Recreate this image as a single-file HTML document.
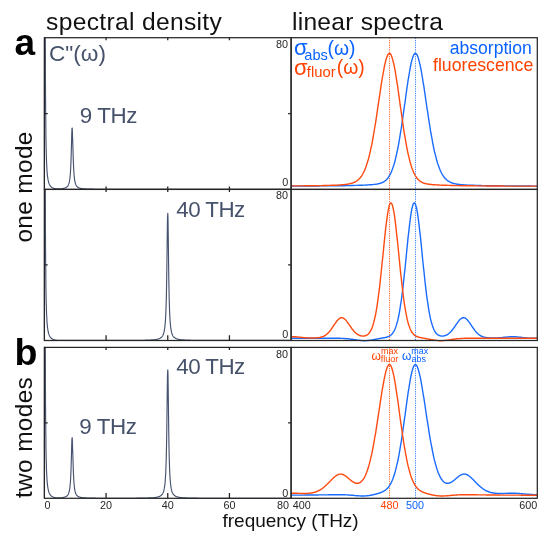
<!DOCTYPE html>
<html><head><meta charset="utf-8"><style>
html,body{margin:0;padding:0;background:#fff;}
body{width:550px;height:543px;overflow:hidden;}
svg{display:block;}
</style></head><body>
<svg width="550" height="543" viewBox="0 0 550 543">
<rect x="0" y="0" width="550" height="543" fill="#fff"/>
<g fill="none" stroke="#465370" stroke-width="1.15" stroke-linejoin="round">
<path d="M44.4,189.2 L44.4,139.2 L44.5,37.7 L44.5,37.7 L44.6,37.7 L44.6,37.7 L44.7,37.7 L44.8,37.7 L44.8,37.7 L44.9,37.7 L44.9,37.7 L44.9,37.7 L45.0,37.7 L45.0,37.7 L45.1,37.7 L45.1,37.7 L45.2,37.7 L45.2,37.7 L45.3,38.3 L45.4,52.9 L45.4,65.5 L45.4,76.5 L45.5,86.1 L45.5,94.6 L45.6,102.1 L45.6,108.7 L45.7,114.6 L45.8,119.9 L45.8,124.7 L45.9,128.9 L45.9,132.8 L45.9,136.3 L46.0,139.5 L46.0,142.5 L46.1,145.1 L46.1,147.6 L46.2,149.9 L46.2,151.9 L46.3,153.9 L46.4,155.6 L46.4,157.3 L46.4,158.8 L46.5,160.3 L46.5,161.6 L46.6,162.8 L46.6,164.0 L46.7,165.1 L46.8,166.1 L46.8,167.1 L46.9,168.0 L46.9,168.8 L46.9,169.6 L47.0,170.4 L47.0,171.1 L47.1,171.7 L47.1,172.4 L47.2,173.0 L47.2,173.6 L47.3,174.1 L47.4,174.6 L47.4,175.1 L47.4,175.6 L47.7,177.3 L47.9,178.7 L48.1,179.9 L48.3,180.9 L48.5,181.7 L48.7,182.5 L48.9,183.1 L49.1,183.7 L49.3,184.2 L49.5,184.6 L49.7,185.0 L49.9,185.4 L50.1,185.7 L50.3,186.0 L50.5,186.2 L50.7,186.4 L50.9,186.7 L51.1,186.8 L51.3,187.0 L51.5,187.2 L51.7,187.3 L51.9,187.5 L52.1,187.6 L52.3,187.7 L52.5,187.8 L52.7,187.9 L52.9,188.0 L53.1,188.1 L53.3,188.2 L53.5,188.2 L53.7,188.3 L54.0,188.4 L54.2,188.4 L54.4,188.5 L54.6,188.5 L54.8,188.6 L55.0,188.6 L55.2,188.6 L55.4,188.7 L55.6,188.7 L55.8,188.7 L56.0,188.7 L56.2,188.8 L56.4,188.8 L56.6,188.8 L56.8,188.8 L57.0,188.8 L57.2,188.8 L57.4,188.8 L57.6,188.8 L57.8,188.9 L58.0,188.9 L58.2,188.9 L58.4,188.9 L58.6,188.9 L58.8,188.9 L59.0,188.8 L59.2,188.8 L59.4,188.8 L59.6,188.8 L59.8,188.8 L60.0,188.8 L60.3,188.8 L60.5,188.8 L60.7,188.8 L60.9,188.8 L61.1,188.7 L61.3,188.7 L61.5,188.7 L61.7,188.7 L61.9,188.7 L62.1,188.6 L62.3,188.6 L62.5,188.6 L62.7,188.5 L62.9,188.5 L63.1,188.5 L63.3,188.4 L63.5,188.4 L63.7,188.4 L63.9,188.3 L64.1,188.3 L64.3,188.2 L64.5,188.2 L64.7,188.1 L64.9,188.0 L65.1,188.0 L65.3,187.9 L65.5,187.8 L65.7,187.7 L65.9,187.6 L66.1,187.5 L66.3,187.3 L66.6,187.2 L66.8,187.1 L67.0,186.9 L67.2,186.7 L67.4,186.5 L67.6,186.2 L67.8,186.0 L68.0,185.6 L68.2,185.3 L68.4,184.9 L68.6,184.4 L68.8,183.8 L69.0,183.2 L69.2,182.4 L69.4,181.5 L69.6,180.4 L69.8,179.0 L70.0,177.4 L70.2,175.4 L70.4,172.8 L70.6,169.7 L70.8,165.7 L71.0,160.7 L71.2,154.7 L71.4,147.5 L71.6,139.8 L71.8,132.8 L72.0,128.3 L72.2,128.0 L72.4,132.0 L72.6,138.8 L72.9,146.5 L73.1,153.8 L73.3,160.0 L73.5,165.1 L73.7,169.2 L73.9,172.5 L74.1,175.1 L74.3,177.1 L74.5,178.8 L74.7,180.2 L74.9,181.3 L75.1,182.3 L75.3,183.1 L75.5,183.7 L75.7,184.3 L75.9,184.8 L76.1,185.2 L76.3,185.6 L76.5,185.9 L76.7,186.2 L76.9,186.4 L77.1,186.7 L77.3,186.9 L77.5,187.0 L77.7,187.2 L77.9,187.3 L78.1,187.5 L78.3,187.6 L78.5,187.7 L78.7,187.8 L78.9,187.9 L79.2,187.9 L79.4,188.0 L79.6,188.1 L79.8,188.1 L80.0,188.2 L80.2,188.3 L80.4,188.3 L80.6,188.4 L80.8,188.4 L81.0,188.4 L81.2,188.5 L81.4,188.5 L81.6,188.5 L81.8,188.6 L82.0,188.6 L82.2,188.6 L82.4,188.7 L82.6,188.7 L82.8,188.7 L83.0,188.7 L83.2,188.7 L83.4,188.8 L83.6,188.8 L83.8,188.8 L84.0,188.8 L84.2,188.8 L84.4,188.9 L84.6,188.9 L84.8,188.9 L85.0,188.9 L85.2,188.9 L85.5,188.9 L85.7,188.9 L85.9,188.9 L86.1,189.0 L86.3,189.0 L86.5,189.0 L86.7,189.0 L86.9,189.0 L87.1,189.0 L87.3,189.0 L87.5,189.0 L87.7,189.0 L87.9,189.0 L88.1,189.0 L88.3,189.0 L88.5,189.0 L88.7,189.1 L88.9,189.1 L89.1,189.1 L89.3,189.1 L89.5,189.1 L89.7,189.1 L89.9,189.1 L90.1,189.1 L90.3,189.1 L90.5,189.1 L90.7,189.1 L90.9,189.1 L91.1,189.1 L91.3,189.1 L91.5,189.1 L91.8,189.1 L92.0,189.1 L92.2,189.1 L92.4,189.1 L92.6,189.1 L92.8,189.1 L93.0,189.1 L93.2,189.1 L93.4,189.1 L93.6,189.2 L93.8,189.2 L94.0,189.2 L94.2,189.2 L94.4,189.2 L94.6,189.2 L94.8,189.2 L95.0,189.2 L95.2,189.2 L95.4,189.2 L95.6,189.2 L95.8,189.2 L96.0,189.2 L96.2,189.2 L96.4,189.2 L96.6,189.2 L96.8,189.2 L97.0,189.2 L97.2,189.2 L97.4,189.2 L97.6,189.2 L97.8,189.2 L98.0,189.2 L98.3,189.2 L98.5,189.2 L98.7,189.2 L98.9,189.2 L99.1,189.2 L99.3,189.2 L99.5,189.2 L99.7,189.2 L99.9,189.2 L100.1,189.2 L100.3,189.2 L100.5,189.2 L100.7,189.2 L100.9,189.2 L101.1,189.2 L101.3,189.2 L101.5,189.2 L101.7,189.2 L101.9,189.2 L102.1,189.2 L102.3,189.2 L102.5,189.2 L102.7,189.2 L102.9,189.2 L103.1,189.2 L103.3,189.2 L103.5,189.2 L103.7,189.2 L103.9,189.2 L104.1,189.2 L104.3,189.2 L104.6,189.2 L104.8,189.2 L105.0,189.2 L105.2,189.2 L105.4,189.2 L105.6,189.2 L105.8,189.2 L106.0,189.2 L106.2,189.2 L106.4,189.2 L106.6,189.2 L106.8,189.2 L107.0,189.2 L107.2,189.2 L107.4,189.2 L107.6,189.2 L107.8,189.2 L108.0,189.2 L108.2,189.2 L108.4,189.2 L108.6,189.2 L108.8,189.2 L109.0,189.2 L109.2,189.3 L109.4,189.3 L109.6,189.3 L109.8,189.3 L110.0,189.3 L110.2,189.3 L110.4,189.3 L110.6,189.3 L110.9,189.3 L111.1,189.3 L111.3,189.3 L111.5,189.3 L111.7,189.3 L111.9,189.3 L112.1,189.3 L112.3,189.3 L112.5,189.3 L112.7,189.3 L112.9,189.3 L113.1,189.3 L113.3,189.3 L113.5,189.3 L113.7,189.3 L113.9,189.3 L114.1,189.3 L114.3,189.3 L114.5,189.3 L114.7,189.3 L114.9,189.3 L115.1,189.3 L115.3,189.3 L115.5,189.3 L115.7,189.3 L115.9,189.3 L116.1,189.3 L116.3,189.3 L116.5,189.3 L116.7,189.3 L116.9,189.3 L117.2,189.3 L117.4,189.3 L117.6,189.3 L117.8,189.3 L118.0,189.3 L118.2,189.3 L118.4,189.3 L118.6,189.3 L118.8,189.3 L119.0,189.3 L119.2,189.3 L119.4,189.3 L119.6,189.3 L119.8,189.3 L120.0,189.3 L120.2,189.3 L120.4,189.3 L120.6,189.3 L120.8,189.3 L121.0,189.3 L121.2,189.3 L121.4,189.3 L121.6,189.3 L121.8,189.3 L122.0,189.3 L122.2,189.3 L122.4,189.3 L122.6,189.3 L122.8,189.3 L123.0,189.3 L123.2,189.3 L123.5,189.3 L123.7,189.3 L123.9,189.3 L124.1,189.3 L124.3,189.3 L124.5,189.3 L124.7,189.3 L124.9,189.3 L125.1,189.3 L125.3,189.3 L125.5,189.3 L125.7,189.3 L125.9,189.3 L126.1,189.3 L126.3,189.3 L126.5,189.3 L126.7,189.3 L126.9,189.3 L127.1,189.3 L127.3,189.3 L127.5,189.3 L127.7,189.3 L127.9,189.3 L128.1,189.3 L128.3,189.3 L128.5,189.3 L128.7,189.3 L128.9,189.3 L129.1,189.3 L129.3,189.3 L129.5,189.3 L129.8,189.3 L130.0,189.3 L130.2,189.3 L130.4,189.3 L130.6,189.3 L130.8,189.3 L131.0,189.3 L131.2,189.3 L131.4,189.3 L131.6,189.3 L131.8,189.3 L132.0,189.3 L132.2,189.3 L132.4,189.3 L132.6,189.3 L132.8,189.3 L133.0,189.3 L133.2,189.3 L133.4,189.3 L133.6,189.3 L133.8,189.3 L134.0,189.3 L134.2,189.3 L134.4,189.3 L134.6,189.3 L134.8,189.3 L135.0,189.3 L135.2,189.3 L135.4,189.3 L135.6,189.3 L135.8,189.3 L136.1,189.3 L136.3,189.3 L136.5,189.3 L136.7,189.3 L136.9,189.3 L137.1,189.3 L137.3,189.3 L137.5,189.3 L137.7,189.3 L137.9,189.3 L138.1,189.3 L138.3,189.3 L138.5,189.3 L138.7,189.3 L138.9,189.3 L139.1,189.3 L139.3,189.3 L139.5,189.3 L139.7,189.3 L139.9,189.3 L140.1,189.3 L140.3,189.3 L140.5,189.3 L140.7,189.3 L140.9,189.3 L141.1,189.3 L141.3,189.3 L141.5,189.3 L141.7,189.3 L141.9,189.3 L142.1,189.3 L142.3,189.3 L142.6,189.3 L142.8,189.3 L143.0,189.3 L143.2,189.3 L143.4,189.3 L143.6,189.3 L143.8,189.3 L144.0,189.3 L144.2,189.3 L144.4,189.3 L144.6,189.3 L144.8,189.3 L145.0,189.3 L145.2,189.3 L145.4,189.3 L145.6,189.3 L145.8,189.3 L146.0,189.3 L146.2,189.3 L146.4,189.3 L146.6,189.3 L146.8,189.3 L147.0,189.3 L147.2,189.3 L147.4,189.3 L147.6,189.3 L147.8,189.3 L148.0,189.3 L148.2,189.3 L148.4,189.3 L148.6,189.3 L148.9,189.3 L149.1,189.3 L149.3,189.3 L149.5,189.3 L149.7,189.3 L149.9,189.3 L150.1,189.3 L150.3,189.3 L150.5,189.3 L150.7,189.3 L150.9,189.3 L151.1,189.3 L151.3,189.3 L151.5,189.3 L151.7,189.3 L151.9,189.3 L152.1,189.3 L152.3,189.3 L152.5,189.3 L152.7,189.3 L152.9,189.3 L153.1,189.3 L153.3,189.3 L153.5,189.3 L153.7,189.3 L153.9,189.3 L154.1,189.3 L154.3,189.3 L154.5,189.3 L154.7,189.3 L154.9,189.3 L155.2,189.3 L155.4,189.3 L155.6,189.3 L155.8,189.3 L156.0,189.3 L156.2,189.3 L156.4,189.3 L156.6,189.3 L156.8,189.3 L157.0,189.3 L157.2,189.3 L157.4,189.3 L157.6,189.3 L157.8,189.3 L158.0,189.3 L158.2,189.3 L158.4,189.3 L158.6,189.3 L158.8,189.3 L159.0,189.3 L159.2,189.3 L159.4,189.3 L159.6,189.3 L159.8,189.3 L160.0,189.3 L160.2,189.3 L160.4,189.3 L160.6,189.3 L160.8,189.3 L161.0,189.3 L161.2,189.3 L161.5,189.3 L161.7,189.3 L161.9,189.3 L162.1,189.3 L162.3,189.3 L162.5,189.3 L162.7,189.3 L162.9,189.3 L163.1,189.3 L163.3,189.3 L163.5,189.3 L163.7,189.3 L163.9,189.3 L164.1,189.3 L164.3,189.3 L164.5,189.3 L164.7,189.3 L164.9,189.3 L165.1,189.3 L165.3,189.3 L165.5,189.3 L165.7,189.3 L165.9,189.3 L166.1,189.3 L166.3,189.3 L166.5,189.3 L166.7,189.3 L166.9,189.3 L167.1,189.3 L167.3,189.3 L167.5,189.3 L167.8,189.3 L168.0,189.3 L168.2,189.3 L168.4,189.3 L168.6,189.3 L168.8,189.3 L169.0,189.3 L169.2,189.3 L169.4,189.3 L169.6,189.3 L169.8,189.3 L170.0,189.3 L170.2,189.3 L170.4,189.3 L170.6,189.3 L170.8,189.3 L171.0,189.3 L171.2,189.3 L171.4,189.3 L171.6,189.3 L171.8,189.3 L172.0,189.3 L172.2,189.3 L172.4,189.3 L172.6,189.3 L172.8,189.3 L173.0,189.3 L173.2,189.3 L173.4,189.3 L173.6,189.3 L173.8,189.3 L174.1,189.3 L174.3,189.3 L174.5,189.3 L174.7,189.3 L174.9,189.3 L175.1,189.3 L175.3,189.3 L175.5,189.3 L175.7,189.3 L175.9,189.3 L176.1,189.3 L176.3,189.3 L176.5,189.3 L176.7,189.3 L176.9,189.3 L177.1,189.3 L177.3,189.3 L177.5,189.3 L177.7,189.3 L177.9,189.3 L178.1,189.3 L178.3,189.3 L178.5,189.3 L178.7,189.3 L178.9,189.3 L179.1,189.3 L179.3,189.3 L179.5,189.3 L179.7,189.3 L179.9,189.3 L180.1,189.3 L180.3,189.3 L180.6,189.3 L180.8,189.3 L181.0,189.3 L181.2,189.3 L181.4,189.3 L181.6,189.3 L181.8,189.3 L182.0,189.3 L182.2,189.3 L182.4,189.3 L182.6,189.3 L182.8,189.3 L183.0,189.3 L183.2,189.3 L183.4,189.3 L183.6,189.3 L183.8,189.3 L184.0,189.3 L184.2,189.3 L184.4,189.3 L184.6,189.3 L184.8,189.3 L185.0,189.3 L185.2,189.3 L185.4,189.3 L185.6,189.3 L185.8,189.3 L186.0,189.3 L186.2,189.3 L186.4,189.3 L186.6,189.3 L186.9,189.3 L187.1,189.3 L187.3,189.3 L187.5,189.3 L187.7,189.3 L187.9,189.3 L188.1,189.3 L188.3,189.3 L188.5,189.3 L188.7,189.3 L188.9,189.3 L189.1,189.3 L189.3,189.3 L189.5,189.3 L189.7,189.3 L189.9,189.3 L190.1,189.3 L190.3,189.3 L190.5,189.3 L190.7,189.3 L190.9,189.3 L191.1,189.3 L191.3,189.3 L191.5,189.3 L191.7,189.3 L191.9,189.3 L192.1,189.3 L192.3,189.3 L192.5,189.3 L192.7,189.3 L192.9,189.3 L193.2,189.3 L193.4,189.3 L193.6,189.3 L193.8,189.3 L194.0,189.3 L194.2,189.3 L194.4,189.3 L194.6,189.3 L194.8,189.3 L195.0,189.3 L195.2,189.3 L195.4,189.3 L195.6,189.3 L195.8,189.3 L196.0,189.3 L196.2,189.3 L196.4,189.3 L196.6,189.3 L196.8,189.3 L197.0,189.3 L197.2,189.3 L197.4,189.3 L197.6,189.3 L197.8,189.3 L198.0,189.3 L198.2,189.3 L198.4,189.3 L198.6,189.3 L198.8,189.3 L199.0,189.3 L199.2,189.3 L199.5,189.3 L199.7,189.3 L199.9,189.3 L200.1,189.3 L200.3,189.3 L200.5,189.3 L200.7,189.3 L200.9,189.3 L201.1,189.3 L201.3,189.3 L201.5,189.3 L201.7,189.3 L201.9,189.3 L202.1,189.3 L202.3,189.3 L202.5,189.3 L202.7,189.3 L202.9,189.3 L203.1,189.3 L203.3,189.3 L203.5,189.3 L203.7,189.3 L203.9,189.3 L204.1,189.3 L204.3,189.3 L204.5,189.3 L204.7,189.3 L204.9,189.3 L205.1,189.3 L205.3,189.3 L205.5,189.3 L205.8,189.3 L206.0,189.3 L206.2,189.3 L206.4,189.3 L206.6,189.3 L206.8,189.3 L207.0,189.3 L207.2,189.3 L207.4,189.3 L207.6,189.3 L207.8,189.3 L208.0,189.3 L208.2,189.3 L208.4,189.3 L208.6,189.3 L208.8,189.3 L209.0,189.3 L209.2,189.3 L209.4,189.3 L209.6,189.3 L209.8,189.3 L210.0,189.3 L210.2,189.3 L210.4,189.3 L210.6,189.3 L210.8,189.3 L211.0,189.3 L211.2,189.3 L211.4,189.3 L211.6,189.3 L211.8,189.3 L212.1,189.3 L212.3,189.3 L212.5,189.3 L212.7,189.3 L212.9,189.3 L213.1,189.3 L213.3,189.3 L213.5,189.3 L213.7,189.3 L213.9,189.3 L214.1,189.3 L214.3,189.3 L214.5,189.3 L214.7,189.3 L214.9,189.3 L215.1,189.3 L215.3,189.3 L215.5,189.3 L215.7,189.3 L215.9,189.3 L216.1,189.3 L216.3,189.3 L216.5,189.3 L216.7,189.3 L216.9,189.3 L217.1,189.3 L217.3,189.3 L217.5,189.3 L217.7,189.3 L217.9,189.3 L218.1,189.3 L218.4,189.3 L218.6,189.3 L218.8,189.3 L219.0,189.3 L219.2,189.3 L219.4,189.3 L219.6,189.3 L219.8,189.3 L220.0,189.3 L220.2,189.3 L220.4,189.3 L220.6,189.3 L220.8,189.3 L221.0,189.3 L221.2,189.3 L221.4,189.3 L221.6,189.3 L221.8,189.3 L222.0,189.3 L222.2,189.3 L222.4,189.3 L222.6,189.3 L222.8,189.3 L223.0,189.3 L223.2,189.3 L223.4,189.3 L223.6,189.3 L223.8,189.3 L224.0,189.3 L224.2,189.3 L224.4,189.3 L224.7,189.3 L224.9,189.3 L225.1,189.3 L225.3,189.3 L225.5,189.3 L225.7,189.3 L225.9,189.3 L226.1,189.3 L226.3,189.3 L226.5,189.3 L226.7,189.3 L226.9,189.3 L227.1,189.3 L227.3,189.3 L227.5,189.3 L227.7,189.3 L227.9,189.3 L228.1,189.3 L228.3,189.3 L228.5,189.3 L228.7,189.3 L228.9,189.3 L229.1,189.3 L229.3,189.3 L229.5,189.3 L229.7,189.3 L229.9,189.3 L230.1,189.3 L230.3,189.3 L230.5,189.3 L230.7,189.3 L230.9,189.3 L231.2,189.3 L231.4,189.3 L231.6,189.3 L231.8,189.3 L232.0,189.3 L232.2,189.3 L232.4,189.3 L232.6,189.3 L232.8,189.3 L233.0,189.3 L233.2,189.3 L233.4,189.3 L233.6,189.3 L233.8,189.3 L234.0,189.3 L234.2,189.3 L234.4,189.3 L234.6,189.3 L234.8,189.3 L235.0,189.3 L235.2,189.3 L235.4,189.3 L235.6,189.3 L235.8,189.3 L236.0,189.3 L236.2,189.3 L236.4,189.3 L236.6,189.3 L236.8,189.3 L237.0,189.3 L237.2,189.3 L237.5,189.3 L237.7,189.3 L237.9,189.3 L238.1,189.3 L238.3,189.3 L238.5,189.3 L238.7,189.3 L238.9,189.3 L239.1,189.3 L239.3,189.3 L239.5,189.3 L239.7,189.3 L239.9,189.3 L240.1,189.3 L240.3,189.3 L240.5,189.3 L240.7,189.3 L240.9,189.3 L241.1,189.3 L241.3,189.3 L241.5,189.3 L241.7,189.3 L241.9,189.3 L242.1,189.3 L242.3,189.3 L242.5,189.3 L242.7,189.3 L242.9,189.3 L243.1,189.3 L243.3,189.3 L243.5,189.3 L243.8,189.3 L244.0,189.3 L244.2,189.3 L244.4,189.3 L244.6,189.3 L244.8,189.3 L245.0,189.3 L245.2,189.3 L245.4,189.3 L245.6,189.3 L245.8,189.3 L246.0,189.3 L246.2,189.3 L246.4,189.3 L246.6,189.3 L246.8,189.3 L247.0,189.3 L247.2,189.3 L247.4,189.3 L247.6,189.3 L247.8,189.3 L248.0,189.3 L248.2,189.3 L248.4,189.3 L248.6,189.3 L248.8,189.3 L249.0,189.3 L249.2,189.3 L249.4,189.3 L249.6,189.3 L249.8,189.3 L250.1,189.3 L250.3,189.3 L250.5,189.3 L250.7,189.3 L250.9,189.3 L251.1,189.3 L251.3,189.3 L251.5,189.3 L251.7,189.3 L251.9,189.3 L252.1,189.3 L252.3,189.3 L252.5,189.3 L252.7,189.3 L252.9,189.3 L253.1,189.3 L253.3,189.3 L253.5,189.3 L253.7,189.3 L253.9,189.3 L254.1,189.3 L254.3,189.3 L254.5,189.3 L254.7,189.3 L254.9,189.3 L255.1,189.3 L255.3,189.3 L255.5,189.3 L255.7,189.3 L255.9,189.3 L256.1,189.3 L256.4,189.3 L256.6,189.3 L256.8,189.3 L257.0,189.3 L257.2,189.3 L257.4,189.3 L257.6,189.3 L257.8,189.3 L258.0,189.3 L258.2,189.3 L258.4,189.3 L258.6,189.3 L258.8,189.3 L259.0,189.3 L259.2,189.3 L259.4,189.3 L259.6,189.3 L259.8,189.3 L260.0,189.3 L260.2,189.3 L260.4,189.3 L260.6,189.3 L260.8,189.3 L261.0,189.3 L261.2,189.3 L261.4,189.3 L261.6,189.3 L261.8,189.3 L262.0,189.3 L262.2,189.3 L262.4,189.3 L262.7,189.3 L262.9,189.3 L263.1,189.3 L263.3,189.3 L263.5,189.3 L263.7,189.3 L263.9,189.3 L264.1,189.3 L264.3,189.3 L264.5,189.3 L264.7,189.3 L264.9,189.3 L265.1,189.3 L265.3,189.3 L265.5,189.3 L265.7,189.3 L265.9,189.3 L266.1,189.3 L266.3,189.3 L266.5,189.3 L266.7,189.3 L266.9,189.3 L267.1,189.3 L267.3,189.3 L267.5,189.3 L267.7,189.3 L267.9,189.3 L268.1,189.3 L268.3,189.3 L268.5,189.3 L268.7,189.3 L269.0,189.3 L269.2,189.3 L269.4,189.3 L269.6,189.3 L269.8,189.3 L270.0,189.3 L270.2,189.3 L270.4,189.3 L270.6,189.3 L270.8,189.3 L271.0,189.3 L271.2,189.3 L271.4,189.3 L271.6,189.3 L271.8,189.3 L272.0,189.3 L272.2,189.3 L272.4,189.3 L272.6,189.3 L272.8,189.3 L273.0,189.3 L273.2,189.3 L273.4,189.3 L273.6,189.3 L273.8,189.3 L274.0,189.3 L274.2,189.3 L274.4,189.3 L274.6,189.3 L274.8,189.3 L275.0,189.3 L275.2,189.3 L275.5,189.3 L275.7,189.3 L275.9,189.3 L276.1,189.3 L276.3,189.3 L276.5,189.3 L276.7,189.3 L276.9,189.3 L277.1,189.3 L277.3,189.3 L277.5,189.3 L277.7,189.3 L277.9,189.3 L278.1,189.3 L278.3,189.3 L278.5,189.3 L278.7,189.3 L278.9,189.3 L279.1,189.3 L279.3,189.3 L279.5,189.3 L279.7,189.3 L279.9,189.3 L280.1,189.3 L280.3,189.3 L280.5,189.3 L280.7,189.3 L280.9,189.3 L281.1,189.3 L281.3,189.3 L281.5,189.3 L281.8,189.3 L282.0,189.3 L282.2,189.3 L282.4,189.3 L282.6,189.3 L282.8,189.3 L283.0,189.3 L283.2,189.3 L283.4,189.3 L283.6,189.3 L283.8,189.3 L284.0,189.3 L284.2,189.3 L284.4,189.3 L284.6,189.3 L284.8,189.3 L285.0,189.3 L285.2,189.3 L285.4,189.3 L285.6,189.3 L285.8,189.3 L286.0,189.3 L286.2,189.3 L286.4,189.3 L286.6,189.3 L286.8,189.3 L287.0,189.3 L287.2,189.3 L287.4,189.3 L287.6,189.3 L287.8,189.3 L288.1,189.3 L288.3,189.3 L288.5,189.3 L288.7,189.3 L288.9,189.3 L289.1,189.3 L289.3,189.3 L289.5,189.3 L289.7,189.3 L289.9,189.3 L290.1,189.3 L290.3,189.3 L290.5,189.3 L290.7,189.3 L290.9,189.3 L291.1,189.3"/>
<path d="M44.4,340.4 L44.4,290.4 L44.5,189.4 L44.5,189.4 L44.6,189.4 L44.6,189.4 L44.7,189.4 L44.8,189.4 L44.8,189.4 L44.9,189.4 L44.9,189.4 L44.9,189.4 L45.0,189.4 L45.0,189.4 L45.1,189.4 L45.1,189.4 L45.2,189.4 L45.2,189.4 L45.3,189.5 L45.4,204.1 L45.4,216.7 L45.4,227.7 L45.5,237.3 L45.5,245.8 L45.6,253.3 L45.6,259.9 L45.7,265.8 L45.8,271.1 L45.8,275.8 L45.9,280.1 L45.9,284.0 L45.9,287.5 L46.0,290.7 L46.0,293.7 L46.1,296.3 L46.1,298.8 L46.2,301.1 L46.2,303.1 L46.3,305.1 L46.4,306.8 L46.4,308.5 L46.4,310.0 L46.5,311.4 L46.5,312.8 L46.6,314.0 L46.6,315.2 L46.7,316.3 L46.8,317.3 L46.8,318.2 L46.9,319.1 L46.9,320.0 L46.9,320.8 L47.0,321.6 L47.0,322.3 L47.1,322.9 L47.1,323.6 L47.2,324.2 L47.2,324.8 L47.3,325.3 L47.4,325.8 L47.4,326.3 L47.4,326.8 L47.7,328.5 L47.9,329.9 L48.1,331.1 L48.3,332.1 L48.5,332.9 L48.7,333.7 L48.9,334.3 L49.1,334.9 L49.3,335.4 L49.5,335.8 L49.7,336.2 L49.9,336.6 L50.1,336.9 L50.3,337.2 L50.5,337.4 L50.7,337.7 L50.9,337.9 L51.1,338.1 L51.3,338.3 L51.5,338.4 L51.7,338.6 L51.9,338.7 L52.1,338.9 L52.3,339.0 L52.5,339.1 L52.7,339.2 L52.9,339.3 L53.1,339.4 L53.3,339.4 L53.5,339.5 L53.7,339.6 L54.0,339.7 L54.2,339.7 L54.4,339.8 L54.6,339.8 L54.8,339.9 L55.0,339.9 L55.2,340.0 L55.4,340.0 L55.6,340.0 L55.8,340.1 L56.0,340.1 L56.2,340.1 L56.4,340.1 L56.6,340.2 L56.8,340.2 L57.0,340.2 L57.2,340.2 L57.4,340.2 L57.6,340.3 L57.8,340.3 L58.0,340.3 L58.2,340.3 L58.4,340.3 L58.6,340.3 L58.8,340.3 L59.0,340.3 L59.2,340.3 L59.4,340.3 L59.6,340.4 L59.8,340.4 L60.0,340.4 L60.3,340.4 L60.5,340.4 L60.7,340.4 L60.9,340.4 L61.1,340.4 L61.3,340.4 L61.5,340.4 L61.7,340.4 L61.9,340.4 L62.1,340.4 L62.3,340.4 L62.5,340.4 L62.7,340.4 L62.9,340.4 L63.1,340.4 L63.3,340.4 L63.5,340.4 L63.7,340.4 L63.9,340.4 L64.1,340.4 L64.3,340.4 L64.5,340.4 L64.7,340.4 L64.9,340.4 L65.1,340.4 L65.3,340.4 L65.5,340.4 L65.7,340.4 L65.9,340.4 L66.1,340.4 L66.3,340.4 L66.6,340.4 L66.8,340.4 L67.0,340.4 L67.2,340.4 L67.4,340.4 L67.6,340.4 L67.8,340.4 L68.0,340.4 L68.2,340.4 L68.4,340.4 L68.6,340.4 L68.8,340.4 L69.0,340.4 L69.2,340.4 L69.4,340.4 L69.6,340.4 L69.8,340.4 L70.0,340.4 L70.2,340.4 L70.4,340.4 L70.6,340.4 L70.8,340.4 L71.0,340.4 L71.2,340.4 L71.4,340.4 L71.6,340.4 L71.8,340.4 L72.0,340.4 L72.2,340.4 L72.4,340.4 L72.6,340.4 L72.9,340.4 L73.1,340.4 L73.3,340.4 L73.5,340.4 L73.7,340.4 L73.9,340.4 L74.1,340.4 L74.3,340.4 L74.5,340.4 L74.7,340.4 L74.9,340.4 L75.1,340.4 L75.3,340.4 L75.5,340.4 L75.7,340.4 L75.9,340.4 L76.1,340.4 L76.3,340.4 L76.5,340.4 L76.7,340.4 L76.9,340.4 L77.1,340.4 L77.3,340.4 L77.5,340.4 L77.7,340.4 L77.9,340.4 L78.1,340.4 L78.3,340.4 L78.5,340.4 L78.7,340.4 L78.9,340.4 L79.2,340.4 L79.4,340.4 L79.6,340.4 L79.8,340.4 L80.0,340.4 L80.2,340.4 L80.4,340.4 L80.6,340.4 L80.8,340.4 L81.0,340.4 L81.2,340.4 L81.4,340.4 L81.6,340.4 L81.8,340.4 L82.0,340.4 L82.2,340.4 L82.4,340.4 L82.6,340.4 L82.8,340.4 L83.0,340.4 L83.2,340.4 L83.4,340.4 L83.6,340.4 L83.8,340.4 L84.0,340.4 L84.2,340.4 L84.4,340.4 L84.6,340.4 L84.8,340.4 L85.0,340.4 L85.2,340.4 L85.5,340.4 L85.7,340.4 L85.9,340.4 L86.1,340.4 L86.3,340.4 L86.5,340.4 L86.7,340.4 L86.9,340.4 L87.1,340.4 L87.3,340.4 L87.5,340.4 L87.7,340.4 L87.9,340.4 L88.1,340.4 L88.3,340.4 L88.5,340.4 L88.7,340.4 L88.9,340.4 L89.1,340.4 L89.3,340.4 L89.5,340.4 L89.7,340.4 L89.9,340.4 L90.1,340.4 L90.3,340.4 L90.5,340.4 L90.7,340.4 L90.9,340.4 L91.1,340.4 L91.3,340.4 L91.5,340.4 L91.8,340.4 L92.0,340.4 L92.2,340.4 L92.4,340.4 L92.6,340.4 L92.8,340.4 L93.0,340.4 L93.2,340.4 L93.4,340.4 L93.6,340.4 L93.8,340.4 L94.0,340.4 L94.2,340.4 L94.4,340.4 L94.6,340.4 L94.8,340.4 L95.0,340.4 L95.2,340.4 L95.4,340.4 L95.6,340.4 L95.8,340.4 L96.0,340.4 L96.2,340.4 L96.4,340.4 L96.6,340.4 L96.8,340.4 L97.0,340.4 L97.2,340.4 L97.4,340.4 L97.6,340.4 L97.8,340.4 L98.0,340.4 L98.3,340.4 L98.5,340.4 L98.7,340.4 L98.9,340.4 L99.1,340.4 L99.3,340.4 L99.5,340.4 L99.7,340.4 L99.9,340.4 L100.1,340.4 L100.3,340.4 L100.5,340.4 L100.7,340.4 L100.9,340.4 L101.1,340.4 L101.3,340.4 L101.5,340.4 L101.7,340.4 L101.9,340.4 L102.1,340.4 L102.3,340.4 L102.5,340.4 L102.7,340.4 L102.9,340.4 L103.1,340.4 L103.3,340.4 L103.5,340.4 L103.7,340.4 L103.9,340.4 L104.1,340.4 L104.3,340.4 L104.6,340.4 L104.8,340.4 L105.0,340.4 L105.2,340.4 L105.4,340.4 L105.6,340.4 L105.8,340.4 L106.0,340.4 L106.2,340.4 L106.4,340.4 L106.6,340.4 L106.8,340.4 L107.0,340.4 L107.2,340.4 L107.4,340.4 L107.6,340.4 L107.8,340.4 L108.0,340.4 L108.2,340.4 L108.4,340.4 L108.6,340.4 L108.8,340.4 L109.0,340.4 L109.2,340.4 L109.4,340.4 L109.6,340.4 L109.8,340.4 L110.0,340.4 L110.2,340.4 L110.4,340.4 L110.6,340.4 L110.9,340.4 L111.1,340.4 L111.3,340.4 L111.5,340.4 L111.7,340.4 L111.9,340.4 L112.1,340.4 L112.3,340.4 L112.5,340.4 L112.7,340.4 L112.9,340.4 L113.1,340.4 L113.3,340.4 L113.5,340.4 L113.7,340.4 L113.9,340.4 L114.1,340.4 L114.3,340.4 L114.5,340.4 L114.7,340.4 L114.9,340.4 L115.1,340.4 L115.3,340.4 L115.5,340.4 L115.7,340.4 L115.9,340.4 L116.1,340.4 L116.3,340.4 L116.5,340.4 L116.7,340.4 L116.9,340.4 L117.2,340.4 L117.4,340.3 L117.6,340.3 L117.8,340.3 L118.0,340.3 L118.2,340.3 L118.4,340.3 L118.6,340.3 L118.8,340.3 L119.0,340.3 L119.2,340.3 L119.4,340.3 L119.6,340.3 L119.8,340.3 L120.0,340.3 L120.2,340.3 L120.4,340.3 L120.6,340.3 L120.8,340.3 L121.0,340.3 L121.2,340.3 L121.4,340.3 L121.6,340.3 L121.8,340.3 L122.0,340.3 L122.2,340.3 L122.4,340.3 L122.6,340.3 L122.8,340.3 L123.0,340.3 L123.2,340.3 L123.5,340.3 L123.7,340.3 L123.9,340.3 L124.1,340.3 L124.3,340.3 L124.5,340.3 L124.7,340.3 L124.9,340.3 L125.1,340.3 L125.3,340.3 L125.5,340.3 L125.7,340.3 L125.9,340.3 L126.1,340.3 L126.3,340.3 L126.5,340.3 L126.7,340.3 L126.9,340.3 L127.1,340.3 L127.3,340.3 L127.5,340.3 L127.7,340.3 L127.9,340.3 L128.1,340.3 L128.3,340.3 L128.5,340.3 L128.7,340.3 L128.9,340.3 L129.1,340.3 L129.3,340.3 L129.5,340.3 L129.8,340.3 L130.0,340.3 L130.2,340.3 L130.4,340.3 L130.6,340.3 L130.8,340.3 L131.0,340.3 L131.2,340.3 L131.4,340.3 L131.6,340.3 L131.8,340.3 L132.0,340.3 L132.2,340.3 L132.4,340.3 L132.6,340.3 L132.8,340.3 L133.0,340.3 L133.2,340.3 L133.4,340.3 L133.6,340.3 L133.8,340.3 L134.0,340.3 L134.2,340.3 L134.4,340.3 L134.6,340.3 L134.8,340.3 L135.0,340.3 L135.2,340.3 L135.4,340.3 L135.6,340.3 L135.8,340.3 L136.1,340.3 L136.3,340.3 L136.5,340.3 L136.7,340.3 L136.9,340.3 L137.1,340.3 L137.3,340.3 L137.5,340.3 L137.7,340.3 L137.9,340.3 L138.1,340.3 L138.3,340.3 L138.5,340.3 L138.7,340.2 L138.9,340.2 L139.1,340.2 L139.3,340.2 L139.5,340.2 L139.7,340.2 L139.9,340.2 L140.1,340.2 L140.3,340.2 L140.5,340.2 L140.7,340.2 L140.9,340.2 L141.1,340.2 L141.3,340.2 L141.5,340.2 L141.7,340.2 L141.9,340.2 L142.1,340.2 L142.3,340.2 L142.6,340.2 L142.8,340.2 L143.0,340.2 L143.2,340.2 L143.4,340.2 L143.6,340.2 L143.8,340.2 L144.0,340.2 L144.2,340.2 L144.4,340.2 L144.6,340.2 L144.8,340.2 L145.0,340.2 L145.2,340.2 L145.4,340.1 L145.6,340.1 L145.8,340.1 L146.0,340.1 L146.2,340.1 L146.4,340.1 L146.6,340.1 L146.8,340.1 L147.0,340.1 L147.2,340.1 L147.4,340.1 L147.6,340.1 L147.8,340.1 L148.0,340.1 L148.2,340.1 L148.4,340.1 L148.6,340.1 L148.9,340.0 L149.1,340.0 L149.3,340.0 L149.5,340.0 L149.7,340.0 L149.9,340.0 L150.1,340.0 L150.3,340.0 L150.5,340.0 L150.7,340.0 L150.9,340.0 L151.1,339.9 L151.3,339.9 L151.5,339.9 L151.7,339.9 L151.9,339.9 L152.1,339.9 L152.3,339.9 L152.5,339.9 L152.7,339.8 L152.9,339.8 L153.1,339.8 L153.3,339.8 L153.5,339.8 L153.7,339.8 L153.9,339.7 L154.1,339.7 L154.3,339.7 L154.5,339.7 L154.7,339.7 L154.9,339.6 L155.2,339.6 L155.4,339.6 L155.6,339.6 L155.8,339.5 L156.0,339.5 L156.2,339.5 L156.4,339.4 L156.6,339.4 L156.8,339.4 L157.0,339.3 L157.2,339.3 L157.4,339.2 L157.6,339.2 L157.8,339.1 L158.0,339.1 L158.2,339.0 L158.4,339.0 L158.6,338.9 L158.8,338.8 L159.0,338.8 L159.2,338.7 L159.4,338.6 L159.6,338.5 L159.8,338.4 L160.0,338.3 L160.2,338.2 L160.4,338.1 L160.6,337.9 L160.8,337.8 L161.0,337.6 L161.2,337.5 L161.5,337.3 L161.7,337.1 L161.9,336.8 L162.1,336.6 L162.3,336.3 L162.5,336.0 L162.7,335.7 L162.9,335.3 L163.1,334.8 L163.3,334.3 L163.5,333.8 L163.7,333.1 L163.9,332.4 L164.1,331.6 L164.3,330.6 L164.5,329.4 L164.7,328.0 L164.9,326.4 L165.1,324.5 L165.3,322.1 L165.5,319.2 L165.7,315.6 L165.9,311.1 L166.1,305.5 L166.3,298.3 L166.5,289.2 L166.7,277.8 L166.9,263.8 L167.1,247.7 L167.3,231.2 L167.5,218.3 L167.8,213.3 L168.0,218.4 L168.2,231.4 L168.4,247.8 L168.6,263.9 L168.8,277.9 L169.0,289.3 L169.2,298.4 L169.4,305.5 L169.6,311.2 L169.8,315.6 L170.0,319.2 L170.2,322.1 L170.4,324.5 L170.6,326.4 L170.8,328.1 L171.0,329.4 L171.2,330.6 L171.4,331.6 L171.6,332.4 L171.8,333.1 L172.0,333.8 L172.2,334.3 L172.4,334.8 L172.6,335.3 L172.8,335.7 L173.0,336.0 L173.2,336.3 L173.4,336.6 L173.6,336.8 L173.8,337.1 L174.1,337.3 L174.3,337.5 L174.5,337.6 L174.7,337.8 L174.9,337.9 L175.1,338.1 L175.3,338.2 L175.5,338.3 L175.7,338.4 L175.9,338.5 L176.1,338.6 L176.3,338.7 L176.5,338.8 L176.7,338.8 L176.9,338.9 L177.1,339.0 L177.3,339.0 L177.5,339.1 L177.7,339.1 L177.9,339.2 L178.1,339.2 L178.3,339.3 L178.5,339.3 L178.7,339.4 L178.9,339.4 L179.1,339.4 L179.3,339.5 L179.5,339.5 L179.7,339.5 L179.9,339.6 L180.1,339.6 L180.3,339.6 L180.6,339.6 L180.8,339.7 L181.0,339.7 L181.2,339.7 L181.4,339.7 L181.6,339.7 L181.8,339.8 L182.0,339.8 L182.2,339.8 L182.4,339.8 L182.6,339.8 L182.8,339.8 L183.0,339.9 L183.2,339.9 L183.4,339.9 L183.6,339.9 L183.8,339.9 L184.0,339.9 L184.2,339.9 L184.4,339.9 L184.6,340.0 L184.8,340.0 L185.0,340.0 L185.2,340.0 L185.4,340.0 L185.6,340.0 L185.8,340.0 L186.0,340.0 L186.2,340.0 L186.4,340.0 L186.6,340.0 L186.9,340.1 L187.1,340.1 L187.3,340.1 L187.5,340.1 L187.7,340.1 L187.9,340.1 L188.1,340.1 L188.3,340.1 L188.5,340.1 L188.7,340.1 L188.9,340.1 L189.1,340.1 L189.3,340.1 L189.5,340.1 L189.7,340.1 L189.9,340.1 L190.1,340.1 L190.3,340.2 L190.5,340.2 L190.7,340.2 L190.9,340.2 L191.1,340.2 L191.3,340.2 L191.5,340.2 L191.7,340.2 L191.9,340.2 L192.1,340.2 L192.3,340.2 L192.5,340.2 L192.7,340.2 L192.9,340.2 L193.2,340.2 L193.4,340.2 L193.6,340.2 L193.8,340.2 L194.0,340.2 L194.2,340.2 L194.4,340.2 L194.6,340.2 L194.8,340.2 L195.0,340.2 L195.2,340.2 L195.4,340.2 L195.6,340.2 L195.8,340.2 L196.0,340.2 L196.2,340.2 L196.4,340.2 L196.6,340.2 L196.8,340.2 L197.0,340.3 L197.2,340.3 L197.4,340.3 L197.6,340.3 L197.8,340.3 L198.0,340.3 L198.2,340.3 L198.4,340.3 L198.6,340.3 L198.8,340.3 L199.0,340.3 L199.2,340.3 L199.5,340.3 L199.7,340.3 L199.9,340.3 L200.1,340.3 L200.3,340.3 L200.5,340.3 L200.7,340.3 L200.9,340.3 L201.1,340.3 L201.3,340.3 L201.5,340.3 L201.7,340.3 L201.9,340.3 L202.1,340.3 L202.3,340.3 L202.5,340.3 L202.7,340.3 L202.9,340.3 L203.1,340.3 L203.3,340.3 L203.5,340.3 L203.7,340.3 L203.9,340.3 L204.1,340.3 L204.3,340.3 L204.5,340.3 L204.7,340.3 L204.9,340.3 L205.1,340.3 L205.3,340.3 L205.5,340.3 L205.8,340.3 L206.0,340.3 L206.2,340.3 L206.4,340.3 L206.6,340.3 L206.8,340.3 L207.0,340.3 L207.2,340.3 L207.4,340.3 L207.6,340.3 L207.8,340.3 L208.0,340.3 L208.2,340.3 L208.4,340.3 L208.6,340.3 L208.8,340.3 L209.0,340.3 L209.2,340.3 L209.4,340.3 L209.6,340.3 L209.8,340.3 L210.0,340.3 L210.2,340.3 L210.4,340.3 L210.6,340.3 L210.8,340.3 L211.0,340.3 L211.2,340.3 L211.4,340.3 L211.6,340.3 L211.8,340.3 L212.1,340.3 L212.3,340.3 L212.5,340.3 L212.7,340.3 L212.9,340.3 L213.1,340.3 L213.3,340.3 L213.5,340.3 L213.7,340.3 L213.9,340.3 L214.1,340.3 L214.3,340.3 L214.5,340.3 L214.7,340.3 L214.9,340.3 L215.1,340.3 L215.3,340.3 L215.5,340.3 L215.7,340.3 L215.9,340.3 L216.1,340.3 L216.3,340.3 L216.5,340.3 L216.7,340.3 L216.9,340.3 L217.1,340.3 L217.3,340.3 L217.5,340.3 L217.7,340.3 L217.9,340.3 L218.1,340.3 L218.4,340.4 L218.6,340.4 L218.8,340.4 L219.0,340.4 L219.2,340.4 L219.4,340.4 L219.6,340.4 L219.8,340.4 L220.0,340.4 L220.2,340.4 L220.4,340.4 L220.6,340.4 L220.8,340.4 L221.0,340.4 L221.2,340.4 L221.4,340.4 L221.6,340.4 L221.8,340.4 L222.0,340.4 L222.2,340.4 L222.4,340.4 L222.6,340.4 L222.8,340.4 L223.0,340.4 L223.2,340.4 L223.4,340.4 L223.6,340.4 L223.8,340.4 L224.0,340.4 L224.2,340.4 L224.4,340.4 L224.7,340.4 L224.9,340.4 L225.1,340.4 L225.3,340.4 L225.5,340.4 L225.7,340.4 L225.9,340.4 L226.1,340.4 L226.3,340.4 L226.5,340.4 L226.7,340.4 L226.9,340.4 L227.1,340.4 L227.3,340.4 L227.5,340.4 L227.7,340.4 L227.9,340.4 L228.1,340.4 L228.3,340.4 L228.5,340.4 L228.7,340.4 L228.9,340.4 L229.1,340.4 L229.3,340.4 L229.5,340.4 L229.7,340.4 L229.9,340.4 L230.1,340.4 L230.3,340.4 L230.5,340.4 L230.7,340.4 L230.9,340.4 L231.2,340.4 L231.4,340.4 L231.6,340.4 L231.8,340.4 L232.0,340.4 L232.2,340.4 L232.4,340.4 L232.6,340.4 L232.8,340.4 L233.0,340.4 L233.2,340.4 L233.4,340.4 L233.6,340.4 L233.8,340.4 L234.0,340.4 L234.2,340.4 L234.4,340.4 L234.6,340.4 L234.8,340.4 L235.0,340.4 L235.2,340.4 L235.4,340.4 L235.6,340.4 L235.8,340.4 L236.0,340.4 L236.2,340.4 L236.4,340.4 L236.6,340.4 L236.8,340.4 L237.0,340.4 L237.2,340.4 L237.5,340.4 L237.7,340.4 L237.9,340.4 L238.1,340.4 L238.3,340.4 L238.5,340.4 L238.7,340.4 L238.9,340.4 L239.1,340.4 L239.3,340.4 L239.5,340.4 L239.7,340.4 L239.9,340.4 L240.1,340.4 L240.3,340.4 L240.5,340.4 L240.7,340.4 L240.9,340.4 L241.1,340.4 L241.3,340.4 L241.5,340.4 L241.7,340.4 L241.9,340.4 L242.1,340.4 L242.3,340.4 L242.5,340.4 L242.7,340.4 L242.9,340.4 L243.1,340.4 L243.3,340.4 L243.5,340.4 L243.8,340.4 L244.0,340.4 L244.2,340.4 L244.4,340.4 L244.6,340.4 L244.8,340.4 L245.0,340.4 L245.2,340.4 L245.4,340.4 L245.6,340.4 L245.8,340.4 L246.0,340.4 L246.2,340.4 L246.4,340.4 L246.6,340.4 L246.8,340.4 L247.0,340.4 L247.2,340.4 L247.4,340.4 L247.6,340.4 L247.8,340.4 L248.0,340.4 L248.2,340.4 L248.4,340.4 L248.6,340.4 L248.8,340.4 L249.0,340.4 L249.2,340.4 L249.4,340.4 L249.6,340.4 L249.8,340.4 L250.1,340.4 L250.3,340.4 L250.5,340.4 L250.7,340.4 L250.9,340.4 L251.1,340.4 L251.3,340.4 L251.5,340.4 L251.7,340.4 L251.9,340.4 L252.1,340.4 L252.3,340.4 L252.5,340.4 L252.7,340.4 L252.9,340.4 L253.1,340.4 L253.3,340.4 L253.5,340.4 L253.7,340.4 L253.9,340.4 L254.1,340.4 L254.3,340.4 L254.5,340.4 L254.7,340.4 L254.9,340.4 L255.1,340.4 L255.3,340.4 L255.5,340.4 L255.7,340.4 L255.9,340.4 L256.1,340.4 L256.4,340.4 L256.6,340.4 L256.8,340.4 L257.0,340.4 L257.2,340.4 L257.4,340.4 L257.6,340.4 L257.8,340.4 L258.0,340.4 L258.2,340.4 L258.4,340.4 L258.6,340.4 L258.8,340.4 L259.0,340.4 L259.2,340.4 L259.4,340.4 L259.6,340.4 L259.8,340.4 L260.0,340.4 L260.2,340.4 L260.4,340.4 L260.6,340.4 L260.8,340.4 L261.0,340.4 L261.2,340.4 L261.4,340.4 L261.6,340.4 L261.8,340.4 L262.0,340.4 L262.2,340.4 L262.4,340.4 L262.7,340.4 L262.9,340.4 L263.1,340.4 L263.3,340.4 L263.5,340.4 L263.7,340.4 L263.9,340.4 L264.1,340.4 L264.3,340.4 L264.5,340.4 L264.7,340.4 L264.9,340.4 L265.1,340.4 L265.3,340.4 L265.5,340.4 L265.7,340.4 L265.9,340.4 L266.1,340.4 L266.3,340.4 L266.5,340.4 L266.7,340.4 L266.9,340.4 L267.1,340.4 L267.3,340.4 L267.5,340.4 L267.7,340.4 L267.9,340.4 L268.1,340.4 L268.3,340.4 L268.5,340.4 L268.7,340.4 L269.0,340.4 L269.2,340.4 L269.4,340.4 L269.6,340.4 L269.8,340.4 L270.0,340.4 L270.2,340.4 L270.4,340.4 L270.6,340.4 L270.8,340.4 L271.0,340.4 L271.2,340.4 L271.4,340.4 L271.6,340.4 L271.8,340.4 L272.0,340.4 L272.2,340.4 L272.4,340.4 L272.6,340.4 L272.8,340.4 L273.0,340.4 L273.2,340.4 L273.4,340.4 L273.6,340.4 L273.8,340.4 L274.0,340.4 L274.2,340.4 L274.4,340.4 L274.6,340.4 L274.8,340.4 L275.0,340.4 L275.2,340.4 L275.5,340.4 L275.7,340.4 L275.9,340.4 L276.1,340.4 L276.3,340.4 L276.5,340.4 L276.7,340.4 L276.9,340.4 L277.1,340.4 L277.3,340.4 L277.5,340.4 L277.7,340.4 L277.9,340.4 L278.1,340.4 L278.3,340.4 L278.5,340.4 L278.7,340.4 L278.9,340.4 L279.1,340.4 L279.3,340.4 L279.5,340.4 L279.7,340.4 L279.9,340.4 L280.1,340.4 L280.3,340.4 L280.5,340.4 L280.7,340.4 L280.9,340.4 L281.1,340.4 L281.3,340.4 L281.5,340.4 L281.8,340.4 L282.0,340.4 L282.2,340.4 L282.4,340.4 L282.6,340.4 L282.8,340.4 L283.0,340.4 L283.2,340.4 L283.4,340.4 L283.6,340.4 L283.8,340.4 L284.0,340.4 L284.2,340.4 L284.4,340.4 L284.6,340.4 L284.8,340.4 L285.0,340.4 L285.2,340.4 L285.4,340.4 L285.6,340.4 L285.8,340.4 L286.0,340.4 L286.2,340.4 L286.4,340.4 L286.6,340.4 L286.8,340.4 L287.0,340.4 L287.2,340.4 L287.4,340.4 L287.6,340.4 L287.8,340.4 L288.1,340.4 L288.3,340.4 L288.5,340.4 L288.7,340.4 L288.9,340.4 L289.1,340.4 L289.3,340.4 L289.5,340.4 L289.7,340.4 L289.9,340.4 L290.1,340.4 L290.3,340.4 L290.5,340.4 L290.7,340.4 L290.9,340.4 L291.1,340.4"/>
<path d="M44.4,498.2 L44.4,448.2 L44.5,347.4 L44.5,347.4 L44.6,347.4 L44.6,347.4 L44.7,347.4 L44.8,347.4 L44.8,347.4 L44.9,347.4 L44.9,347.4 L44.9,347.4 L45.0,347.4 L45.0,347.4 L45.1,347.4 L45.1,347.4 L45.2,347.4 L45.2,347.4 L45.3,347.4 L45.4,361.9 L45.4,374.5 L45.4,385.5 L45.5,395.1 L45.5,403.6 L45.6,411.1 L45.6,417.7 L45.7,423.6 L45.8,428.9 L45.8,433.7 L45.9,437.9 L45.9,441.8 L45.9,445.3 L46.0,448.5 L46.0,451.5 L46.1,454.1 L46.1,456.6 L46.2,458.9 L46.2,460.9 L46.3,462.9 L46.4,464.6 L46.4,466.3 L46.4,467.8 L46.5,469.2 L46.5,470.6 L46.6,471.8 L46.6,473.0 L46.7,474.1 L46.8,475.1 L46.8,476.0 L46.9,476.9 L46.9,477.8 L46.9,478.6 L47.0,479.3 L47.0,480.1 L47.1,480.7 L47.1,481.4 L47.2,482.0 L47.2,482.6 L47.3,483.1 L47.4,483.6 L47.4,484.1 L47.4,484.6 L47.7,486.3 L47.9,487.7 L48.1,488.9 L48.3,489.9 L48.5,490.7 L48.7,491.5 L48.9,492.1 L49.1,492.7 L49.3,493.2 L49.5,493.6 L49.7,494.0 L49.9,494.4 L50.1,494.7 L50.3,494.9 L50.5,495.2 L50.7,495.4 L50.9,495.6 L51.1,495.8 L51.3,496.0 L51.5,496.2 L51.7,496.3 L51.9,496.5 L52.1,496.6 L52.3,496.7 L52.5,496.8 L52.7,496.9 L52.9,497.0 L53.1,497.1 L53.3,497.2 L53.5,497.2 L53.7,497.3 L54.0,497.3 L54.2,497.4 L54.4,497.5 L54.6,497.5 L54.8,497.5 L55.0,497.6 L55.2,497.6 L55.4,497.7 L55.6,497.7 L55.8,497.7 L56.0,497.7 L56.2,497.8 L56.4,497.8 L56.6,497.8 L56.8,497.8 L57.0,497.8 L57.2,497.8 L57.4,497.8 L57.6,497.8 L57.8,497.8 L58.0,497.8 L58.2,497.9 L58.4,497.9 L58.6,497.9 L58.8,497.8 L59.0,497.8 L59.2,497.8 L59.4,497.8 L59.6,497.8 L59.8,497.8 L60.0,497.8 L60.3,497.8 L60.5,497.8 L60.7,497.8 L60.9,497.7 L61.1,497.7 L61.3,497.7 L61.5,497.7 L61.7,497.7 L61.9,497.7 L62.1,497.6 L62.3,497.6 L62.5,497.6 L62.7,497.5 L62.9,497.5 L63.1,497.5 L63.3,497.4 L63.5,497.4 L63.7,497.4 L63.9,497.3 L64.1,497.3 L64.3,497.2 L64.5,497.2 L64.7,497.1 L64.9,497.0 L65.1,497.0 L65.3,496.9 L65.5,496.8 L65.7,496.7 L65.9,496.6 L66.1,496.5 L66.3,496.4 L66.6,496.2 L66.8,496.1 L67.0,495.9 L67.2,495.7 L67.4,495.5 L67.6,495.2 L67.8,495.0 L68.0,494.7 L68.2,494.3 L68.4,493.9 L68.6,493.4 L68.8,492.9 L69.0,492.2 L69.2,491.5 L69.4,490.6 L69.6,489.5 L69.8,488.1 L70.0,486.5 L70.2,484.5 L70.4,482.0 L70.6,478.9 L70.8,475.0 L71.0,470.1 L71.2,464.0 L71.4,457.0 L71.6,449.4 L71.8,442.4 L72.0,438.0 L72.2,437.7 L72.4,441.6 L72.6,448.4 L72.9,456.0 L73.1,463.1 L73.3,469.3 L73.5,474.4 L73.7,478.4 L73.9,481.6 L74.1,484.2 L74.3,486.3 L74.5,487.9 L74.7,489.3 L74.9,490.4 L75.1,491.4 L75.3,492.1 L75.5,492.8 L75.7,493.4 L75.9,493.8 L76.1,494.3 L76.3,494.6 L76.5,494.9 L76.7,495.2 L76.9,495.5 L77.1,495.7 L77.3,495.9 L77.5,496.0 L77.7,496.2 L77.9,496.3 L78.1,496.5 L78.3,496.6 L78.5,496.7 L78.7,496.8 L78.9,496.9 L79.2,496.9 L79.4,497.0 L79.6,497.1 L79.8,497.1 L80.0,497.2 L80.2,497.3 L80.4,497.3 L80.6,497.3 L80.8,497.4 L81.0,497.4 L81.2,497.5 L81.4,497.5 L81.6,497.5 L81.8,497.6 L82.0,497.6 L82.2,497.6 L82.4,497.6 L82.6,497.7 L82.8,497.7 L83.0,497.7 L83.2,497.7 L83.4,497.8 L83.6,497.8 L83.8,497.8 L84.0,497.8 L84.2,497.8 L84.4,497.8 L84.6,497.9 L84.8,497.9 L85.0,497.9 L85.2,497.9 L85.5,497.9 L85.7,497.9 L85.9,497.9 L86.1,497.9 L86.3,497.9 L86.5,498.0 L86.7,498.0 L86.9,498.0 L87.1,498.0 L87.3,498.0 L87.5,498.0 L87.7,498.0 L87.9,498.0 L88.1,498.0 L88.3,498.0 L88.5,498.0 L88.7,498.0 L88.9,498.0 L89.1,498.0 L89.3,498.1 L89.5,498.1 L89.7,498.1 L89.9,498.1 L90.1,498.1 L90.3,498.1 L90.5,498.1 L90.7,498.1 L90.9,498.1 L91.1,498.1 L91.3,498.1 L91.5,498.1 L91.8,498.1 L92.0,498.1 L92.2,498.1 L92.4,498.1 L92.6,498.1 L92.8,498.1 L93.0,498.1 L93.2,498.1 L93.4,498.1 L93.6,498.1 L93.8,498.1 L94.0,498.1 L94.2,498.1 L94.4,498.1 L94.6,498.1 L94.8,498.1 L95.0,498.1 L95.2,498.1 L95.4,498.2 L95.6,498.2 L95.8,498.2 L96.0,498.2 L96.2,498.2 L96.4,498.2 L96.6,498.2 L96.8,498.2 L97.0,498.2 L97.2,498.2 L97.4,498.2 L97.6,498.2 L97.8,498.2 L98.0,498.2 L98.3,498.2 L98.5,498.2 L98.7,498.2 L98.9,498.2 L99.1,498.2 L99.3,498.2 L99.5,498.2 L99.7,498.2 L99.9,498.2 L100.1,498.2 L100.3,498.2 L100.5,498.2 L100.7,498.2 L100.9,498.2 L101.1,498.2 L101.3,498.2 L101.5,498.2 L101.7,498.2 L101.9,498.2 L102.1,498.2 L102.3,498.2 L102.5,498.2 L102.7,498.2 L102.9,498.2 L103.1,498.2 L103.3,498.2 L103.5,498.2 L103.7,498.2 L103.9,498.2 L104.1,498.2 L104.3,498.2 L104.6,498.2 L104.8,498.2 L105.0,498.2 L105.2,498.2 L105.4,498.2 L105.6,498.2 L105.8,498.2 L106.0,498.2 L106.2,498.2 L106.4,498.2 L106.6,498.2 L106.8,498.2 L107.0,498.2 L107.2,498.2 L107.4,498.2 L107.6,498.2 L107.8,498.2 L108.0,498.2 L108.2,498.2 L108.4,498.2 L108.6,498.2 L108.8,498.2 L109.0,498.2 L109.2,498.2 L109.4,498.2 L109.6,498.2 L109.8,498.2 L110.0,498.2 L110.2,498.2 L110.4,498.2 L110.6,498.2 L110.9,498.2 L111.1,498.2 L111.3,498.2 L111.5,498.2 L111.7,498.2 L111.9,498.2 L112.1,498.2 L112.3,498.2 L112.5,498.2 L112.7,498.2 L112.9,498.2 L113.1,498.2 L113.3,498.2 L113.5,498.2 L113.7,498.2 L113.9,498.2 L114.1,498.2 L114.3,498.2 L114.5,498.2 L114.7,498.2 L114.9,498.2 L115.1,498.2 L115.3,498.2 L115.5,498.2 L115.7,498.2 L115.9,498.2 L116.1,498.2 L116.3,498.2 L116.5,498.2 L116.7,498.2 L116.9,498.2 L117.2,498.2 L117.4,498.2 L117.6,498.2 L117.8,498.2 L118.0,498.2 L118.2,498.2 L118.4,498.2 L118.6,498.2 L118.8,498.2 L119.0,498.2 L119.2,498.2 L119.4,498.2 L119.6,498.2 L119.8,498.2 L120.0,498.2 L120.2,498.2 L120.4,498.2 L120.6,498.2 L120.8,498.2 L121.0,498.2 L121.2,498.2 L121.4,498.2 L121.6,498.2 L121.8,498.2 L122.0,498.2 L122.2,498.2 L122.4,498.2 L122.6,498.2 L122.8,498.2 L123.0,498.2 L123.2,498.2 L123.5,498.2 L123.7,498.2 L123.9,498.2 L124.1,498.2 L124.3,498.2 L124.5,498.2 L124.7,498.2 L124.9,498.2 L125.1,498.2 L125.3,498.2 L125.5,498.2 L125.7,498.2 L125.9,498.2 L126.1,498.2 L126.3,498.2 L126.5,498.2 L126.7,498.2 L126.9,498.2 L127.1,498.2 L127.3,498.2 L127.5,498.2 L127.7,498.2 L127.9,498.2 L128.1,498.2 L128.3,498.2 L128.5,498.2 L128.7,498.2 L128.9,498.2 L129.1,498.2 L129.3,498.2 L129.5,498.2 L129.8,498.2 L130.0,498.2 L130.2,498.2 L130.4,498.2 L130.6,498.2 L130.8,498.2 L131.0,498.2 L131.2,498.2 L131.4,498.2 L131.6,498.2 L131.8,498.2 L132.0,498.2 L132.2,498.2 L132.4,498.2 L132.6,498.2 L132.8,498.2 L133.0,498.2 L133.2,498.2 L133.4,498.2 L133.6,498.2 L133.8,498.2 L134.0,498.2 L134.2,498.2 L134.4,498.2 L134.6,498.2 L134.8,498.2 L135.0,498.2 L135.2,498.2 L135.4,498.2 L135.6,498.2 L135.8,498.2 L136.1,498.2 L136.3,498.2 L136.5,498.2 L136.7,498.2 L136.9,498.1 L137.1,498.1 L137.3,498.1 L137.5,498.1 L137.7,498.1 L137.9,498.1 L138.1,498.1 L138.3,498.1 L138.5,498.1 L138.7,498.1 L138.9,498.1 L139.1,498.1 L139.3,498.1 L139.5,498.1 L139.7,498.1 L139.9,498.1 L140.1,498.1 L140.3,498.1 L140.5,498.1 L140.7,498.1 L140.9,498.1 L141.1,498.1 L141.3,498.1 L141.5,498.1 L141.7,498.1 L141.9,498.1 L142.1,498.1 L142.3,498.1 L142.6,498.1 L142.8,498.1 L143.0,498.1 L143.2,498.1 L143.4,498.1 L143.6,498.1 L143.8,498.1 L144.0,498.1 L144.2,498.1 L144.4,498.1 L144.6,498.0 L144.8,498.0 L145.0,498.0 L145.2,498.0 L145.4,498.0 L145.6,498.0 L145.8,498.0 L146.0,498.0 L146.2,498.0 L146.4,498.0 L146.6,498.0 L146.8,498.0 L147.0,498.0 L147.2,498.0 L147.4,498.0 L147.6,498.0 L147.8,498.0 L148.0,498.0 L148.2,498.0 L148.4,497.9 L148.6,497.9 L148.9,497.9 L149.1,497.9 L149.3,497.9 L149.5,497.9 L149.7,497.9 L149.9,497.9 L150.1,497.9 L150.3,497.9 L150.5,497.9 L150.7,497.8 L150.9,497.8 L151.1,497.8 L151.3,497.8 L151.5,497.8 L151.7,497.8 L151.9,497.8 L152.1,497.8 L152.3,497.8 L152.5,497.7 L152.7,497.7 L152.9,497.7 L153.1,497.7 L153.3,497.7 L153.5,497.7 L153.7,497.6 L153.9,497.6 L154.1,497.6 L154.3,497.6 L154.5,497.6 L154.7,497.5 L154.9,497.5 L155.2,497.5 L155.4,497.5 L155.6,497.4 L155.8,497.4 L156.0,497.4 L156.2,497.3 L156.4,497.3 L156.6,497.3 L156.8,497.2 L157.0,497.2 L157.2,497.1 L157.4,497.1 L157.6,497.1 L157.8,497.0 L158.0,497.0 L158.2,496.9 L158.4,496.8 L158.6,496.8 L158.8,496.7 L159.0,496.6 L159.2,496.6 L159.4,496.5 L159.6,496.4 L159.8,496.3 L160.0,496.2 L160.2,496.1 L160.4,495.9 L160.6,495.8 L160.8,495.7 L161.0,495.5 L161.2,495.3 L161.5,495.1 L161.7,494.9 L161.9,494.7 L162.1,494.4 L162.3,494.2 L162.5,493.8 L162.7,493.5 L162.9,493.1 L163.1,492.7 L163.3,492.2 L163.5,491.6 L163.7,491.0 L163.9,490.2 L164.1,489.4 L164.3,488.4 L164.5,487.2 L164.7,485.8 L164.9,484.2 L165.1,482.2 L165.3,479.8 L165.5,476.8 L165.7,473.2 L165.9,468.7 L166.1,463.0 L166.3,455.8 L166.5,446.6 L166.7,435.0 L166.9,420.8 L167.1,404.5 L167.3,387.9 L167.5,374.8 L167.8,369.8 L168.0,374.9 L168.2,388.1 L168.4,404.7 L168.6,421.0 L168.8,435.1 L169.0,446.7 L169.2,455.8 L169.4,463.0 L169.6,468.7 L169.8,473.3 L170.0,476.9 L170.2,479.8 L170.4,482.2 L170.6,484.2 L170.8,485.8 L171.0,487.2 L171.2,488.4 L171.4,489.4 L171.6,490.2 L171.8,491.0 L172.0,491.6 L172.2,492.2 L172.4,492.7 L172.6,493.1 L172.8,493.5 L173.0,493.9 L173.2,494.2 L173.4,494.4 L173.6,494.7 L173.8,494.9 L174.1,495.1 L174.3,495.3 L174.5,495.5 L174.7,495.7 L174.9,495.8 L175.1,495.9 L175.3,496.1 L175.5,496.2 L175.7,496.3 L175.9,496.4 L176.1,496.5 L176.3,496.6 L176.5,496.6 L176.7,496.7 L176.9,496.8 L177.1,496.8 L177.3,496.9 L177.5,497.0 L177.7,497.0 L177.9,497.1 L178.1,497.1 L178.3,497.2 L178.5,497.2 L178.7,497.2 L178.9,497.3 L179.1,497.3 L179.3,497.3 L179.5,497.4 L179.7,497.4 L179.9,497.4 L180.1,497.5 L180.3,497.5 L180.6,497.5 L180.8,497.5 L181.0,497.6 L181.2,497.6 L181.4,497.6 L181.6,497.6 L181.8,497.6 L182.0,497.7 L182.2,497.7 L182.4,497.7 L182.6,497.7 L182.8,497.7 L183.0,497.7 L183.2,497.8 L183.4,497.8 L183.6,497.8 L183.8,497.8 L184.0,497.8 L184.2,497.8 L184.4,497.8 L184.6,497.8 L184.8,497.9 L185.0,497.9 L185.2,497.9 L185.4,497.9 L185.6,497.9 L185.8,497.9 L186.0,497.9 L186.2,497.9 L186.4,497.9 L186.6,497.9 L186.9,497.9 L187.1,498.0 L187.3,498.0 L187.5,498.0 L187.7,498.0 L187.9,498.0 L188.1,498.0 L188.3,498.0 L188.5,498.0 L188.7,498.0 L188.9,498.0 L189.1,498.0 L189.3,498.0 L189.5,498.0 L189.7,498.0 L189.9,498.0 L190.1,498.0 L190.3,498.0 L190.5,498.0 L190.7,498.1 L190.9,498.1 L191.1,498.1 L191.3,498.1 L191.5,498.1 L191.7,498.1 L191.9,498.1 L192.1,498.1 L192.3,498.1 L192.5,498.1 L192.7,498.1 L192.9,498.1 L193.2,498.1 L193.4,498.1 L193.6,498.1 L193.8,498.1 L194.0,498.1 L194.2,498.1 L194.4,498.1 L194.6,498.1 L194.8,498.1 L195.0,498.1 L195.2,498.1 L195.4,498.1 L195.6,498.1 L195.8,498.1 L196.0,498.1 L196.2,498.1 L196.4,498.1 L196.6,498.1 L196.8,498.1 L197.0,498.1 L197.2,498.1 L197.4,498.1 L197.6,498.2 L197.8,498.2 L198.0,498.2 L198.2,498.2 L198.4,498.2 L198.6,498.2 L198.8,498.2 L199.0,498.2 L199.2,498.2 L199.5,498.2 L199.7,498.2 L199.9,498.2 L200.1,498.2 L200.3,498.2 L200.5,498.2 L200.7,498.2 L200.9,498.2 L201.1,498.2 L201.3,498.2 L201.5,498.2 L201.7,498.2 L201.9,498.2 L202.1,498.2 L202.3,498.2 L202.5,498.2 L202.7,498.2 L202.9,498.2 L203.1,498.2 L203.3,498.2 L203.5,498.2 L203.7,498.2 L203.9,498.2 L204.1,498.2 L204.3,498.2 L204.5,498.2 L204.7,498.2 L204.9,498.2 L205.1,498.2 L205.3,498.2 L205.5,498.2 L205.8,498.2 L206.0,498.2 L206.2,498.2 L206.4,498.2 L206.6,498.2 L206.8,498.2 L207.0,498.2 L207.2,498.2 L207.4,498.2 L207.6,498.2 L207.8,498.2 L208.0,498.2 L208.2,498.2 L208.4,498.2 L208.6,498.2 L208.8,498.2 L209.0,498.2 L209.2,498.2 L209.4,498.2 L209.6,498.2 L209.8,498.2 L210.0,498.2 L210.2,498.2 L210.4,498.2 L210.6,498.2 L210.8,498.2 L211.0,498.2 L211.2,498.2 L211.4,498.2 L211.6,498.2 L211.8,498.2 L212.1,498.2 L212.3,498.2 L212.5,498.2 L212.7,498.2 L212.9,498.2 L213.1,498.2 L213.3,498.2 L213.5,498.2 L213.7,498.2 L213.9,498.2 L214.1,498.2 L214.3,498.2 L214.5,498.2 L214.7,498.2 L214.9,498.2 L215.1,498.2 L215.3,498.2 L215.5,498.2 L215.7,498.2 L215.9,498.2 L216.1,498.2 L216.3,498.2 L216.5,498.2 L216.7,498.2 L216.9,498.2 L217.1,498.2 L217.3,498.2 L217.5,498.2 L217.7,498.2 L217.9,498.2 L218.1,498.2 L218.4,498.2 L218.6,498.2 L218.8,498.2 L219.0,498.2 L219.2,498.2 L219.4,498.2 L219.6,498.2 L219.8,498.2 L220.0,498.2 L220.2,498.3 L220.4,498.3 L220.6,498.3 L220.8,498.3 L221.0,498.3 L221.2,498.3 L221.4,498.3 L221.6,498.3 L221.8,498.3 L222.0,498.3 L222.2,498.3 L222.4,498.3 L222.6,498.3 L222.8,498.3 L223.0,498.3 L223.2,498.3 L223.4,498.3 L223.6,498.3 L223.8,498.3 L224.0,498.3 L224.2,498.3 L224.4,498.3 L224.7,498.3 L224.9,498.3 L225.1,498.3 L225.3,498.3 L225.5,498.3 L225.7,498.3 L225.9,498.3 L226.1,498.3 L226.3,498.3 L226.5,498.3 L226.7,498.3 L226.9,498.3 L227.1,498.3 L227.3,498.3 L227.5,498.3 L227.7,498.3 L227.9,498.3 L228.1,498.3 L228.3,498.3 L228.5,498.3 L228.7,498.3 L228.9,498.3 L229.1,498.3 L229.3,498.3 L229.5,498.3 L229.7,498.3 L229.9,498.3 L230.1,498.3 L230.3,498.3 L230.5,498.3 L230.7,498.3 L230.9,498.3 L231.2,498.3 L231.4,498.3 L231.6,498.3 L231.8,498.3 L232.0,498.3 L232.2,498.3 L232.4,498.3 L232.6,498.3 L232.8,498.3 L233.0,498.3 L233.2,498.3 L233.4,498.3 L233.6,498.3 L233.8,498.3 L234.0,498.3 L234.2,498.3 L234.4,498.3 L234.6,498.3 L234.8,498.3 L235.0,498.3 L235.2,498.3 L235.4,498.3 L235.6,498.3 L235.8,498.3 L236.0,498.3 L236.2,498.3 L236.4,498.3 L236.6,498.3 L236.8,498.3 L237.0,498.3 L237.2,498.3 L237.5,498.3 L237.7,498.3 L237.9,498.3 L238.1,498.3 L238.3,498.3 L238.5,498.3 L238.7,498.3 L238.9,498.3 L239.1,498.3 L239.3,498.3 L239.5,498.3 L239.7,498.3 L239.9,498.3 L240.1,498.3 L240.3,498.3 L240.5,498.3 L240.7,498.3 L240.9,498.3 L241.1,498.3 L241.3,498.3 L241.5,498.3 L241.7,498.3 L241.9,498.3 L242.1,498.3 L242.3,498.3 L242.5,498.3 L242.7,498.3 L242.9,498.3 L243.1,498.3 L243.3,498.3 L243.5,498.3 L243.8,498.3 L244.0,498.3 L244.2,498.3 L244.4,498.3 L244.6,498.3 L244.8,498.3 L245.0,498.3 L245.2,498.3 L245.4,498.3 L245.6,498.3 L245.8,498.3 L246.0,498.3 L246.2,498.3 L246.4,498.3 L246.6,498.3 L246.8,498.3 L247.0,498.3 L247.2,498.3 L247.4,498.3 L247.6,498.3 L247.8,498.3 L248.0,498.3 L248.2,498.3 L248.4,498.3 L248.6,498.3 L248.8,498.3 L249.0,498.3 L249.2,498.3 L249.4,498.3 L249.6,498.3 L249.8,498.3 L250.1,498.3 L250.3,498.3 L250.5,498.3 L250.7,498.3 L250.9,498.3 L251.1,498.3 L251.3,498.3 L251.5,498.3 L251.7,498.3 L251.9,498.3 L252.1,498.3 L252.3,498.3 L252.5,498.3 L252.7,498.3 L252.9,498.3 L253.1,498.3 L253.3,498.3 L253.5,498.3 L253.7,498.3 L253.9,498.3 L254.1,498.3 L254.3,498.3 L254.5,498.3 L254.7,498.3 L254.9,498.3 L255.1,498.3 L255.3,498.3 L255.5,498.3 L255.7,498.3 L255.9,498.3 L256.1,498.3 L256.4,498.3 L256.6,498.3 L256.8,498.3 L257.0,498.3 L257.2,498.3 L257.4,498.3 L257.6,498.3 L257.8,498.3 L258.0,498.3 L258.2,498.3 L258.4,498.3 L258.6,498.3 L258.8,498.3 L259.0,498.3 L259.2,498.3 L259.4,498.3 L259.6,498.3 L259.8,498.3 L260.0,498.3 L260.2,498.3 L260.4,498.3 L260.6,498.3 L260.8,498.3 L261.0,498.3 L261.2,498.3 L261.4,498.3 L261.6,498.3 L261.8,498.3 L262.0,498.3 L262.2,498.3 L262.4,498.3 L262.7,498.3 L262.9,498.3 L263.1,498.3 L263.3,498.3 L263.5,498.3 L263.7,498.3 L263.9,498.3 L264.1,498.3 L264.3,498.3 L264.5,498.3 L264.7,498.3 L264.9,498.3 L265.1,498.3 L265.3,498.3 L265.5,498.3 L265.7,498.3 L265.9,498.3 L266.1,498.3 L266.3,498.3 L266.5,498.3 L266.7,498.3 L266.9,498.3 L267.1,498.3 L267.3,498.3 L267.5,498.3 L267.7,498.3 L267.9,498.3 L268.1,498.3 L268.3,498.3 L268.5,498.3 L268.7,498.3 L269.0,498.3 L269.2,498.3 L269.4,498.3 L269.6,498.3 L269.8,498.3 L270.0,498.3 L270.2,498.3 L270.4,498.3 L270.6,498.3 L270.8,498.3 L271.0,498.3 L271.2,498.3 L271.4,498.3 L271.6,498.3 L271.8,498.3 L272.0,498.3 L272.2,498.3 L272.4,498.3 L272.6,498.3 L272.8,498.3 L273.0,498.3 L273.2,498.3 L273.4,498.3 L273.6,498.3 L273.8,498.3 L274.0,498.3 L274.2,498.3 L274.4,498.3 L274.6,498.3 L274.8,498.3 L275.0,498.3 L275.2,498.3 L275.5,498.3 L275.7,498.3 L275.9,498.3 L276.1,498.3 L276.3,498.3 L276.5,498.3 L276.7,498.3 L276.9,498.3 L277.1,498.3 L277.3,498.3 L277.5,498.3 L277.7,498.3 L277.9,498.3 L278.1,498.3 L278.3,498.3 L278.5,498.3 L278.7,498.3 L278.9,498.3 L279.1,498.3 L279.3,498.3 L279.5,498.3 L279.7,498.3 L279.9,498.3 L280.1,498.3 L280.3,498.3 L280.5,498.3 L280.7,498.3 L280.9,498.3 L281.1,498.3 L281.3,498.3 L281.5,498.3 L281.8,498.3 L282.0,498.3 L282.2,498.3 L282.4,498.3 L282.6,498.3 L282.8,498.3 L283.0,498.3 L283.2,498.3 L283.4,498.3 L283.6,498.3 L283.8,498.3 L284.0,498.3 L284.2,498.3 L284.4,498.3 L284.6,498.3 L284.8,498.3 L285.0,498.3 L285.2,498.3 L285.4,498.3 L285.6,498.3 L285.8,498.3 L286.0,498.3 L286.2,498.3 L286.4,498.3 L286.6,498.3 L286.8,498.3 L287.0,498.3 L287.2,498.3 L287.4,498.3 L287.6,498.3 L287.8,498.3 L288.1,498.3 L288.3,498.3 L288.5,498.3 L288.7,498.3 L288.9,498.3 L289.1,498.3 L289.3,498.3 L289.5,498.3 L289.7,498.3 L289.9,498.3 L290.1,498.3 L290.3,498.3 L290.5,498.3 L290.7,498.3 L290.9,498.3 L291.1,498.3"/>
</g>
<line x1="389.5" y1="37.7" x2="389.5" y2="189.4" stroke="#ff4200" stroke-width="1" stroke-opacity="0.8" stroke-dasharray="1.2 1.1"/>
<line x1="415.5" y1="37.7" x2="415.5" y2="189.4" stroke="#0a62ff" stroke-width="1" stroke-opacity="0.8" stroke-dasharray="1.2 1.1"/>
<line x1="389.5" y1="189.4" x2="389.5" y2="340.5" stroke="#ff4200" stroke-width="1" stroke-opacity="0.8" stroke-dasharray="1.2 1.1"/>
<line x1="415.5" y1="189.4" x2="415.5" y2="340.5" stroke="#0a62ff" stroke-width="1" stroke-opacity="0.8" stroke-dasharray="1.2 1.1"/>
<line x1="389.5" y1="347.4" x2="389.5" y2="498.3" stroke="#ff4200" stroke-width="1" stroke-opacity="0.8" stroke-dasharray="1.2 1.1"/>
<line x1="415.5" y1="347.4" x2="415.5" y2="498.3" stroke="#0a62ff" stroke-width="1" stroke-opacity="0.8" stroke-dasharray="1.2 1.1"/>
<g fill="none" stroke-width="1.4" stroke-linejoin="round">
<path stroke="#1a6cff" d="M291.1,186.1 L291.5,186.1 L291.9,186.1 L292.3,186.1 L292.7,186.1 L293.2,186.1 L293.6,186.1 L294.0,186.1 L294.4,186.1 L294.8,186.1 L295.2,186.1 L295.6,186.1 L296.0,186.1 L296.4,186.1 L296.9,186.1 L297.3,186.1 L297.7,186.1 L298.1,186.1 L298.5,186.1 L298.9,186.1 L299.3,186.1 L299.7,186.1 L300.1,186.1 L300.6,186.1 L301.0,186.1 L301.4,186.0 L301.8,186.0 L302.2,186.0 L302.6,186.0 L303.0,186.0 L303.4,186.0 L303.8,186.0 L304.3,186.0 L304.7,186.0 L305.1,186.0 L305.5,186.0 L305.9,186.0 L306.3,186.0 L306.7,186.0 L307.1,186.0 L307.5,186.0 L308.0,186.0 L308.4,186.0 L308.8,186.0 L309.2,186.0 L309.6,186.0 L310.0,186.0 L310.4,186.0 L310.8,186.0 L311.2,186.0 L311.7,186.0 L312.1,186.0 L312.5,186.0 L312.9,186.0 L313.3,186.0 L313.7,186.0 L314.1,186.0 L314.5,186.0 L314.9,186.0 L315.4,186.0 L315.8,186.0 L316.2,186.0 L316.6,186.0 L317.0,186.0 L317.4,186.0 L317.8,186.0 L318.2,186.0 L318.6,186.0 L319.0,186.0 L319.5,185.9 L319.9,185.9 L320.3,185.9 L320.7,185.9 L321.1,185.9 L321.5,185.9 L321.9,185.9 L322.3,185.9 L322.7,185.9 L323.2,185.9 L323.6,185.9 L324.0,185.9 L324.4,185.9 L324.8,185.9 L325.2,185.9 L325.6,185.9 L326.0,185.9 L326.4,185.9 L326.9,185.9 L327.3,185.9 L327.7,185.9 L328.1,185.9 L328.5,185.9 L328.9,185.9 L329.3,185.9 L329.7,185.9 L330.1,185.9 L330.6,185.9 L331.0,185.8 L331.4,185.8 L331.8,185.8 L332.2,185.8 L332.6,185.8 L333.0,185.8 L333.4,185.8 L333.8,185.8 L334.3,185.8 L334.7,185.8 L335.1,185.8 L335.5,185.8 L335.9,185.8 L336.3,185.8 L336.7,185.8 L337.1,185.8 L337.5,185.8 L338.0,185.8 L338.4,185.8 L338.8,185.8 L339.2,185.7 L339.6,185.7 L340.0,185.7 L340.4,185.7 L340.8,185.7 L341.2,185.7 L341.7,185.7 L342.1,185.7 L342.5,185.7 L342.9,185.7 L343.3,185.7 L343.7,185.7 L344.1,185.7 L344.5,185.7 L344.9,185.7 L345.4,185.6 L345.8,185.6 L346.2,185.6 L346.6,185.6 L347.0,185.6 L347.4,185.6 L347.8,185.6 L348.2,185.6 L348.6,185.6 L349.1,185.6 L349.5,185.6 L349.9,185.6 L350.3,185.6 L350.7,185.5 L351.1,185.5 L351.5,185.5 L351.9,185.5 L352.3,185.5 L352.8,185.5 L353.2,185.5 L353.6,185.5 L354.0,185.5 L354.4,185.4 L354.8,185.4 L355.2,185.4 L355.6,185.4 L356.0,185.4 L356.5,185.4 L356.9,185.4 L357.3,185.4 L357.7,185.4 L358.1,185.3 L358.5,185.3 L358.9,185.3 L359.3,185.3 L359.7,185.3 L360.2,185.3 L360.6,185.3 L361.0,185.2 L361.4,185.2 L361.8,185.2 L362.2,185.2 L362.6,185.2 L363.0,185.2 L363.4,185.1 L363.9,185.1 L364.3,185.1 L364.7,185.1 L365.1,185.1 L365.5,185.1 L365.9,185.0 L366.3,185.0 L366.7,185.0 L367.1,185.0 L367.5,184.9 L368.0,184.9 L368.4,184.9 L368.8,184.9 L369.2,184.8 L369.6,184.8 L370.0,184.8 L370.4,184.8 L370.8,184.7 L371.2,184.7 L371.7,184.7 L372.1,184.6 L372.5,184.6 L372.9,184.6 L373.3,184.5 L373.7,184.5 L374.1,184.4 L374.5,184.4 L374.9,184.4 L375.4,184.3 L375.8,184.2 L376.2,184.2 L376.6,184.1 L377.0,184.1 L377.4,184.0 L377.8,183.9 L378.2,183.8 L378.6,183.7 L379.1,183.6 L379.5,183.5 L379.9,183.4 L380.3,183.3 L380.7,183.2 L381.1,183.0 L381.5,182.9 L381.9,182.7 L382.3,182.5 L382.8,182.3 L383.2,182.1 L383.6,181.9 L384.0,181.7 L384.4,181.4 L384.8,181.1 L385.2,180.8 L385.6,180.4 L386.0,180.1 L386.5,179.7 L386.9,179.2 L387.3,178.8 L387.7,178.3 L388.1,177.7 L388.5,177.2 L388.9,176.5 L389.3,175.9 L389.7,175.2 L390.2,174.4 L390.6,173.6 L391.0,172.7 L391.4,171.8 L391.8,170.8 L392.2,169.8 L392.6,168.6 L393.0,167.5 L393.4,166.2 L393.9,164.9 L394.3,163.5 L394.7,162.0 L395.1,160.5 L395.5,158.9 L395.9,157.2 L396.3,155.4 L396.7,153.6 L397.1,151.6 L397.6,149.6 L398.0,147.5 L398.4,145.4 L398.8,143.1 L399.2,140.8 L399.6,138.4 L400.0,135.9 L400.4,133.4 L400.8,130.8 L401.3,128.2 L401.7,125.5 L402.1,122.7 L402.5,119.9 L402.9,117.0 L403.3,114.2 L403.7,111.2 L404.1,108.3 L404.5,105.4 L405.0,102.4 L405.4,99.5 L405.8,96.5 L406.2,93.6 L406.6,90.7 L407.0,87.8 L407.4,85.0 L407.8,82.3 L408.2,79.6 L408.7,77.0 L409.1,74.5 L409.5,72.0 L409.9,69.7 L410.3,67.5 L410.7,65.5 L411.1,63.5 L411.5,61.7 L411.9,60.1 L412.4,58.6 L412.8,57.3 L413.2,56.2 L413.6,55.3 L414.0,54.5 L414.4,54.0 L414.8,53.6 L415.2,53.4 L415.6,53.4 L416.0,53.6 L416.5,54.0 L416.9,54.6 L417.3,55.4 L417.7,56.3 L418.1,57.5 L418.5,58.7 L418.9,60.2 L419.3,61.8 L419.7,63.5 L420.2,65.4 L420.6,67.4 L421.0,69.5 L421.4,71.7 L421.8,74.0 L422.2,76.4 L422.6,78.9 L423.0,81.4 L423.4,84.0 L423.9,86.7 L424.3,89.4 L424.7,92.1 L425.1,94.9 L425.5,97.7 L425.9,100.5 L426.3,103.3 L426.7,106.0 L427.1,108.8 L427.6,111.6 L428.0,114.3 L428.4,117.1 L428.8,119.7 L429.2,122.4 L429.6,125.0 L430.0,127.5 L430.4,130.0 L430.8,132.5 L431.3,134.9 L431.7,137.2 L432.1,139.4 L432.5,141.6 L432.9,143.8 L433.3,145.8 L433.7,147.8 L434.1,149.7 L434.5,151.6 L435.0,153.3 L435.4,155.1 L435.8,156.7 L436.2,158.3 L436.6,159.8 L437.0,161.2 L437.4,162.6 L437.8,163.9 L438.2,165.1 L438.7,166.3 L439.1,167.4 L439.5,168.5 L439.9,169.5 L440.3,170.5 L440.7,171.4 L441.1,172.2 L441.5,173.0 L441.9,173.8 L442.4,174.5 L442.8,175.2 L443.2,175.8 L443.6,176.4 L444.0,177.0 L444.4,177.5 L444.8,178.0 L445.2,178.5 L445.6,178.9 L446.1,179.3 L446.5,179.7 L446.9,180.0 L447.3,180.4 L447.7,180.7 L448.1,181.0 L448.5,181.2 L448.9,181.5 L449.3,181.7 L449.8,181.9 L450.2,182.1 L450.6,182.3 L451.0,182.5 L451.4,182.7 L451.8,182.8 L452.2,183.0 L452.6,183.1 L453.0,183.3 L453.5,183.4 L453.9,183.5 L454.3,183.6 L454.7,183.7 L455.1,183.8 L455.5,183.9 L455.9,183.9 L456.3,184.0 L456.7,184.1 L457.2,184.2 L457.6,184.2 L458.0,184.3 L458.4,184.3 L458.8,184.4 L459.2,184.4 L459.6,184.5 L460.0,184.5 L460.4,184.6 L460.9,184.6 L461.3,184.7 L461.7,184.7 L462.1,184.7 L462.5,184.8 L462.9,184.8 L463.3,184.8 L463.7,184.9 L464.1,184.9 L464.5,184.9 L465.0,184.9 L465.4,185.0 L465.8,185.0 L466.2,185.0 L466.6,185.0 L467.0,185.1 L467.4,185.1 L467.8,185.1 L468.2,185.1 L468.7,185.1 L469.1,185.2 L469.5,185.2 L469.9,185.2 L470.3,185.2 L470.7,185.2 L471.1,185.2 L471.5,185.3 L471.9,185.3 L472.4,185.3 L472.8,185.3 L473.2,185.3 L473.6,185.3 L474.0,185.3 L474.4,185.4 L474.8,185.4 L475.2,185.4 L475.6,185.4 L476.1,185.4 L476.5,185.4 L476.9,185.4 L477.3,185.4 L477.7,185.5 L478.1,185.5 L478.5,185.5 L478.9,185.5 L479.3,185.5 L479.8,185.5 L480.2,185.5 L480.6,185.5 L481.0,185.5 L481.4,185.5 L481.8,185.6 L482.2,185.6 L482.6,185.6 L483.0,185.6 L483.5,185.6 L483.9,185.6 L484.3,185.6 L484.7,185.6 L485.1,185.6 L485.5,185.6 L485.9,185.6 L486.3,185.6 L486.7,185.7 L487.2,185.7 L487.6,185.7 L488.0,185.7 L488.4,185.7 L488.8,185.7 L489.2,185.7 L489.6,185.7 L490.0,185.7 L490.4,185.7 L490.9,185.7 L491.3,185.7 L491.7,185.7 L492.1,185.7 L492.5,185.7 L492.9,185.7 L493.3,185.8 L493.7,185.8 L494.1,185.8 L494.6,185.8 L495.0,185.8 L495.4,185.8 L495.8,185.8 L496.2,185.8 L496.6,185.8 L497.0,185.8 L497.4,185.8 L497.8,185.8 L498.3,185.8 L498.7,185.8 L499.1,185.8 L499.5,185.8 L499.9,185.8 L500.3,185.8 L500.7,185.8 L501.1,185.8 L501.5,185.9 L502.0,185.9 L502.4,185.9 L502.8,185.9 L503.2,185.9 L503.6,185.9 L504.0,185.9 L504.4,185.9 L504.8,185.9 L505.2,185.9 L505.7,185.9 L506.1,185.9 L506.5,185.9 L506.9,185.9 L507.3,185.9 L507.7,185.9 L508.1,185.9 L508.5,185.9 L508.9,185.9 L509.4,185.9 L509.8,185.9 L510.2,185.9 L510.6,185.9 L511.0,185.9 L511.4,185.9 L511.8,185.9 L512.2,185.9 L512.6,185.9 L513.0,186.0 L513.5,186.0 L513.9,186.0 L514.3,186.0 L514.7,186.0 L515.1,186.0 L515.5,186.0 L515.9,186.0 L516.3,186.0 L516.7,186.0 L517.2,186.0 L517.6,186.0 L518.0,186.0 L518.4,186.0 L518.8,186.0 L519.2,186.0 L519.6,186.0 L520.0,186.0 L520.4,186.0 L520.9,186.0 L521.3,186.0 L521.7,186.0 L522.1,186.0 L522.5,186.0 L522.9,186.0 L523.3,186.0 L523.7,186.0 L524.1,186.0 L524.6,186.0 L525.0,186.0 L525.4,186.0 L525.8,186.0 L526.2,186.0 L526.6,186.0 L527.0,186.0 L527.4,186.0 L527.8,186.0 L528.3,186.0 L528.7,186.0 L529.1,186.0 L529.5,186.0 L529.9,186.0 L530.3,186.0 L530.7,186.0 L531.1,186.1 L531.5,186.1 L532.0,186.1 L532.4,186.1 L532.8,186.1 L533.2,186.1 L533.6,186.1 L534.0,186.1 L534.4,186.1 L534.8,186.1 L535.2,186.1 L535.7,186.1 L536.1,186.1 L536.5,186.1 L536.9,186.1 L537.3,186.1"/>
<path stroke="#ff4a10" d="M291.1,186.0 L291.5,186.0 L291.9,186.0 L292.3,185.9 L292.7,185.9 L293.2,185.9 L293.6,185.9 L294.0,185.9 L294.4,185.9 L294.8,185.9 L295.2,185.9 L295.6,185.9 L296.0,185.9 L296.4,185.9 L296.9,185.9 L297.3,185.9 L297.7,185.9 L298.1,185.9 L298.5,185.9 L298.9,185.9 L299.3,185.9 L299.7,185.9 L300.1,185.9 L300.6,185.9 L301.0,185.9 L301.4,185.9 L301.8,185.9 L302.2,185.9 L302.6,185.9 L303.0,185.9 L303.4,185.9 L303.8,185.8 L304.3,185.8 L304.7,185.8 L305.1,185.8 L305.5,185.8 L305.9,185.8 L306.3,185.8 L306.7,185.8 L307.1,185.8 L307.5,185.8 L308.0,185.8 L308.4,185.8 L308.8,185.8 L309.2,185.8 L309.6,185.8 L310.0,185.8 L310.4,185.8 L310.8,185.8 L311.2,185.8 L311.7,185.8 L312.1,185.7 L312.5,185.7 L312.9,185.7 L313.3,185.7 L313.7,185.7 L314.1,185.7 L314.5,185.7 L314.9,185.7 L315.4,185.7 L315.8,185.7 L316.2,185.7 L316.6,185.7 L317.0,185.7 L317.4,185.7 L317.8,185.7 L318.2,185.6 L318.6,185.6 L319.0,185.6 L319.5,185.6 L319.9,185.6 L320.3,185.6 L320.7,185.6 L321.1,185.6 L321.5,185.6 L321.9,185.6 L322.3,185.6 L322.7,185.6 L323.2,185.5 L323.6,185.5 L324.0,185.5 L324.4,185.5 L324.8,185.5 L325.2,185.5 L325.6,185.5 L326.0,185.5 L326.4,185.5 L326.9,185.5 L327.3,185.4 L327.7,185.4 L328.1,185.4 L328.5,185.4 L328.9,185.4 L329.3,185.4 L329.7,185.4 L330.1,185.4 L330.6,185.4 L331.0,185.3 L331.4,185.3 L331.8,185.3 L332.2,185.3 L332.6,185.3 L333.0,185.3 L333.4,185.3 L333.8,185.2 L334.3,185.2 L334.7,185.2 L335.1,185.2 L335.5,185.2 L335.9,185.1 L336.3,185.1 L336.7,185.1 L337.1,185.1 L337.5,185.1 L338.0,185.0 L338.4,185.0 L338.8,185.0 L339.2,185.0 L339.6,185.0 L340.0,184.9 L340.4,184.9 L340.8,184.9 L341.2,184.8 L341.7,184.8 L342.1,184.8 L342.5,184.8 L342.9,184.7 L343.3,184.7 L343.7,184.6 L344.1,184.6 L344.5,184.6 L344.9,184.5 L345.4,184.5 L345.8,184.4 L346.2,184.4 L346.6,184.3 L347.0,184.3 L347.4,184.2 L347.8,184.1 L348.2,184.1 L348.6,184.0 L349.1,183.9 L349.5,183.8 L349.9,183.7 L350.3,183.6 L350.7,183.5 L351.1,183.4 L351.5,183.3 L351.9,183.2 L352.3,183.1 L352.8,182.9 L353.2,182.8 L353.6,182.6 L354.0,182.4 L354.4,182.3 L354.8,182.1 L355.2,181.9 L355.6,181.6 L356.0,181.4 L356.5,181.1 L356.9,180.8 L357.3,180.5 L357.7,180.2 L358.1,179.9 L358.5,179.5 L358.9,179.1 L359.3,178.7 L359.7,178.3 L360.2,177.8 L360.6,177.3 L361.0,176.7 L361.4,176.2 L361.8,175.6 L362.2,174.9 L362.6,174.2 L363.0,173.5 L363.4,172.7 L363.9,171.9 L364.3,171.0 L364.7,170.1 L365.1,169.1 L365.5,168.1 L365.9,167.0 L366.3,165.8 L366.7,164.6 L367.1,163.3 L367.5,162.0 L368.0,160.6 L368.4,159.1 L368.8,157.6 L369.2,156.0 L369.6,154.4 L370.0,152.6 L370.4,150.8 L370.8,148.9 L371.2,147.0 L371.7,145.0 L372.1,142.9 L372.5,140.7 L372.9,138.5 L373.3,136.2 L373.7,133.9 L374.1,131.5 L374.5,129.0 L374.9,126.5 L375.4,123.9 L375.8,121.3 L376.2,118.6 L376.6,115.9 L377.0,113.2 L377.4,110.4 L377.8,107.7 L378.2,104.9 L378.6,102.1 L379.1,99.3 L379.5,96.5 L379.9,93.7 L380.3,91.0 L380.7,88.3 L381.1,85.6 L381.5,82.9 L381.9,80.3 L382.3,77.8 L382.8,75.4 L383.2,73.0 L383.6,70.8 L384.0,68.6 L384.4,66.5 L384.8,64.6 L385.2,62.8 L385.6,61.1 L386.0,59.6 L386.5,58.2 L386.9,57.0 L387.3,55.9 L387.7,55.1 L388.1,54.4 L388.5,53.9 L388.9,53.5 L389.3,53.4 L389.7,53.5 L390.2,53.7 L390.6,54.2 L391.0,54.8 L391.4,55.7 L391.8,56.7 L392.2,57.9 L392.6,59.2 L393.0,60.8 L393.4,62.5 L393.9,64.3 L394.3,66.3 L394.7,68.4 L395.1,70.7 L395.5,73.0 L395.9,75.5 L396.3,78.1 L396.7,80.7 L397.1,83.4 L397.6,86.2 L398.0,89.0 L398.4,91.9 L398.8,94.8 L399.2,97.7 L399.6,100.7 L400.0,103.6 L400.4,106.6 L400.8,109.5 L401.3,112.5 L401.7,115.4 L402.1,118.2 L402.5,121.1 L402.9,123.9 L403.3,126.6 L403.7,129.3 L404.1,131.9 L404.5,134.5 L405.0,137.0 L405.4,139.4 L405.8,141.8 L406.2,144.1 L406.6,146.3 L407.0,148.4 L407.4,150.5 L407.8,152.4 L408.2,154.3 L408.7,156.2 L409.1,157.9 L409.5,159.6 L409.9,161.2 L410.3,162.7 L410.7,164.1 L411.1,165.5 L411.5,166.7 L411.9,168.0 L412.4,169.1 L412.8,170.2 L413.2,171.2 L413.6,172.2 L414.0,173.1 L414.4,173.9 L414.8,174.7 L415.2,175.5 L415.6,176.2 L416.0,176.8 L416.5,177.4 L416.9,178.0 L417.3,178.5 L417.7,179.0 L418.1,179.4 L418.5,179.8 L418.9,180.2 L419.3,180.6 L419.7,180.9 L420.2,181.2 L420.6,181.5 L421.0,181.8 L421.4,182.0 L421.8,182.2 L422.2,182.4 L422.6,182.6 L423.0,182.8 L423.4,183.0 L423.9,183.1 L424.3,183.2 L424.7,183.4 L425.1,183.5 L425.5,183.6 L425.9,183.7 L426.3,183.8 L426.7,183.9 L427.1,183.9 L427.6,184.0 L428.0,184.1 L428.4,184.2 L428.8,184.2 L429.2,184.3 L429.6,184.3 L430.0,184.4 L430.4,184.4 L430.8,184.5 L431.3,184.5 L431.7,184.5 L432.1,184.6 L432.5,184.6 L432.9,184.7 L433.3,184.7 L433.7,184.7 L434.1,184.8 L434.5,184.8 L435.0,184.8 L435.4,184.8 L435.8,184.9 L436.2,184.9 L436.6,184.9 L437.0,184.9 L437.4,185.0 L437.8,185.0 L438.2,185.0 L438.7,185.0 L439.1,185.0 L439.5,185.1 L439.9,185.1 L440.3,185.1 L440.7,185.1 L441.1,185.1 L441.5,185.2 L441.9,185.2 L442.4,185.2 L442.8,185.2 L443.2,185.2 L443.6,185.2 L444.0,185.2 L444.4,185.3 L444.8,185.3 L445.2,185.3 L445.6,185.3 L446.1,185.3 L446.5,185.3 L446.9,185.3 L447.3,185.4 L447.7,185.4 L448.1,185.4 L448.5,185.4 L448.9,185.4 L449.3,185.4 L449.8,185.4 L450.2,185.4 L450.6,185.5 L451.0,185.5 L451.4,185.5 L451.8,185.5 L452.2,185.5 L452.6,185.5 L453.0,185.5 L453.5,185.5 L453.9,185.5 L454.3,185.5 L454.7,185.6 L455.1,185.6 L455.5,185.6 L455.9,185.6 L456.3,185.6 L456.7,185.6 L457.2,185.6 L457.6,185.6 L458.0,185.6 L458.4,185.6 L458.8,185.6 L459.2,185.6 L459.6,185.7 L460.0,185.7 L460.4,185.7 L460.9,185.7 L461.3,185.7 L461.7,185.7 L462.1,185.7 L462.5,185.7 L462.9,185.7 L463.3,185.7 L463.7,185.7 L464.1,185.7 L464.5,185.7 L465.0,185.7 L465.4,185.7 L465.8,185.7 L466.2,185.8 L466.6,185.8 L467.0,185.8 L467.4,185.8 L467.8,185.8 L468.2,185.8 L468.7,185.8 L469.1,185.8 L469.5,185.8 L469.9,185.8 L470.3,185.8 L470.7,185.8 L471.1,185.8 L471.5,185.8 L471.9,185.8 L472.4,185.8 L472.8,185.8 L473.2,185.8 L473.6,185.8 L474.0,185.8 L474.4,185.9 L474.8,185.9 L475.2,185.9 L475.6,185.9 L476.1,185.9 L476.5,185.9 L476.9,185.9 L477.3,185.9 L477.7,185.9 L478.1,185.9 L478.5,185.9 L478.9,185.9 L479.3,185.9 L479.8,185.9 L480.2,185.9 L480.6,185.9 L481.0,185.9 L481.4,185.9 L481.8,185.9 L482.2,185.9 L482.6,185.9 L483.0,185.9 L483.5,185.9 L483.9,185.9 L484.3,185.9 L484.7,185.9 L485.1,185.9 L485.5,185.9 L485.9,186.0 L486.3,186.0 L486.7,186.0 L487.2,186.0 L487.6,186.0 L488.0,186.0 L488.4,186.0 L488.8,186.0 L489.2,186.0 L489.6,186.0 L490.0,186.0 L490.4,186.0 L490.9,186.0 L491.3,186.0 L491.7,186.0 L492.1,186.0 L492.5,186.0 L492.9,186.0 L493.3,186.0 L493.7,186.0 L494.1,186.0 L494.6,186.0 L495.0,186.0 L495.4,186.0 L495.8,186.0 L496.2,186.0 L496.6,186.0 L497.0,186.0 L497.4,186.0 L497.8,186.0 L498.3,186.0 L498.7,186.0 L499.1,186.0 L499.5,186.0 L499.9,186.0 L500.3,186.0 L500.7,186.0 L501.1,186.0 L501.5,186.0 L502.0,186.0 L502.4,186.0 L502.8,186.0 L503.2,186.0 L503.6,186.0 L504.0,186.1 L504.4,186.1 L504.8,186.1 L505.2,186.1 L505.7,186.1 L506.1,186.1 L506.5,186.1 L506.9,186.1 L507.3,186.1 L507.7,186.1 L508.1,186.1 L508.5,186.1 L508.9,186.1 L509.4,186.1 L509.8,186.1 L510.2,186.1 L510.6,186.1 L511.0,186.1 L511.4,186.1 L511.8,186.1 L512.2,186.1 L512.6,186.1 L513.0,186.1 L513.5,186.1 L513.9,186.1 L514.3,186.1 L514.7,186.1 L515.1,186.1 L515.5,186.1 L515.9,186.1 L516.3,186.1 L516.7,186.1 L517.2,186.1 L517.6,186.1 L518.0,186.1 L518.4,186.1 L518.8,186.1 L519.2,186.1 L519.6,186.1 L520.0,186.1 L520.4,186.1 L520.9,186.1 L521.3,186.1 L521.7,186.1 L522.1,186.1 L522.5,186.1 L522.9,186.1 L523.3,186.1 L523.7,186.1 L524.1,186.1 L524.6,186.1 L525.0,186.1 L525.4,186.1 L525.8,186.1 L526.2,186.1 L526.6,186.1 L527.0,186.1 L527.4,186.1 L527.8,186.1 L528.3,186.1 L528.7,186.1 L529.1,186.1 L529.5,186.1 L529.9,186.1 L530.3,186.1 L530.7,186.1 L531.1,186.1 L531.5,186.1 L532.0,186.1 L532.4,186.1 L532.8,186.1 L533.2,186.1 L533.6,186.1 L534.0,186.1 L534.4,186.1 L534.8,186.1 L535.2,186.1 L535.7,186.1 L536.1,186.1 L536.5,186.1 L536.9,186.1 L537.3,186.1"/>
<path stroke="#1a6cff" d="M291.1,338.3 L291.5,338.3 L291.9,338.3 L292.3,338.3 L292.7,338.3 L293.2,338.3 L293.6,338.3 L294.0,338.3 L294.4,338.3 L294.8,338.3 L295.2,338.3 L295.6,338.3 L296.0,338.3 L296.4,338.3 L296.9,338.3 L297.3,338.3 L297.7,338.3 L298.1,338.3 L298.5,338.3 L298.9,338.3 L299.3,338.3 L299.7,338.3 L300.1,338.3 L300.6,338.3 L301.0,338.3 L301.4,338.3 L301.8,338.3 L302.2,338.3 L302.6,338.3 L303.0,338.3 L303.4,338.3 L303.8,338.3 L304.3,338.3 L304.7,338.3 L305.1,338.3 L305.5,338.3 L305.9,338.3 L306.3,338.3 L306.7,338.3 L307.1,338.3 L307.5,338.3 L308.0,338.3 L308.4,338.3 L308.8,338.3 L309.2,338.3 L309.6,338.3 L310.0,338.3 L310.4,338.3 L310.8,338.3 L311.2,338.3 L311.7,338.3 L312.1,338.3 L312.5,338.3 L312.9,338.3 L313.3,338.3 L313.7,338.3 L314.1,338.3 L314.5,338.3 L314.9,338.3 L315.4,338.3 L315.8,338.3 L316.2,338.3 L316.6,338.3 L317.0,338.3 L317.4,338.3 L317.8,338.3 L318.2,338.3 L318.6,338.3 L319.0,338.3 L319.5,338.3 L319.9,338.3 L320.3,338.3 L320.7,338.3 L321.1,338.3 L321.5,338.3 L321.9,338.3 L322.3,338.3 L322.7,338.3 L323.2,338.3 L323.6,338.3 L324.0,338.3 L324.4,338.3 L324.8,338.3 L325.2,338.3 L325.6,338.3 L326.0,338.3 L326.4,338.3 L326.9,338.3 L327.3,338.3 L327.7,338.3 L328.1,338.3 L328.5,338.3 L328.9,338.3 L329.3,338.3 L329.7,338.3 L330.1,338.3 L330.6,338.3 L331.0,338.3 L331.4,338.3 L331.8,338.3 L332.2,338.3 L332.6,338.3 L333.0,338.3 L333.4,338.3 L333.8,338.3 L334.3,338.3 L334.7,338.3 L335.1,338.3 L335.5,338.3 L335.9,338.3 L336.3,338.3 L336.7,338.3 L337.1,338.3 L337.5,338.3 L338.0,338.3 L338.4,338.3 L338.8,338.3 L339.2,338.3 L339.6,338.3 L340.0,338.3 L340.4,338.3 L340.8,338.4 L341.2,338.4 L341.7,338.4 L342.1,338.4 L342.5,338.4 L342.9,338.4 L343.3,338.4 L343.7,338.5 L344.1,338.5 L344.5,338.5 L344.9,338.5 L345.4,338.6 L345.8,338.6 L346.2,338.6 L346.6,338.7 L347.0,338.7 L347.4,338.7 L347.8,338.8 L348.2,338.8 L348.6,338.9 L349.1,338.9 L349.5,339.0 L349.9,339.0 L350.3,339.1 L350.7,339.1 L351.1,339.2 L351.5,339.2 L351.9,339.3 L352.3,339.3 L352.8,339.4 L353.2,339.4 L353.6,339.5 L354.0,339.6 L354.4,339.6 L354.8,339.7 L355.2,339.8 L355.6,339.8 L356.0,339.9 L356.5,339.9 L356.9,340.0 L357.3,340.1 L357.7,340.1 L358.1,340.2 L358.5,340.2 L358.9,340.3 L359.3,340.3 L359.7,340.4 L360.2,340.4 L360.6,340.5 L361.0,340.5 L361.4,340.5 L361.8,340.6 L362.2,340.6 L362.6,340.6 L363.0,340.6 L363.4,340.7 L363.9,340.7 L364.3,340.7 L364.7,340.7 L365.1,340.7 L365.5,340.7 L365.9,340.6 L366.3,340.6 L366.7,340.6 L367.1,340.6 L367.5,340.5 L368.0,340.5 L368.4,340.5 L368.8,340.4 L369.2,340.4 L369.6,340.3 L370.0,340.3 L370.4,340.2 L370.8,340.1 L371.2,340.1 L371.7,340.0 L372.1,339.9 L372.5,339.9 L372.9,339.8 L373.3,339.7 L373.7,339.7 L374.1,339.6 L374.5,339.5 L374.9,339.4 L375.4,339.3 L375.8,339.3 L376.2,339.2 L376.6,339.1 L377.0,339.0 L377.4,338.9 L377.8,338.9 L378.2,338.8 L378.6,338.7 L379.1,338.6 L379.5,338.6 L379.9,338.5 L380.3,338.4 L380.7,338.3 L381.1,338.3 L381.5,338.2 L381.9,338.1 L382.3,338.0 L382.8,338.0 L383.2,337.9 L383.6,337.8 L384.0,337.7 L384.4,337.7 L384.8,337.6 L385.2,337.5 L385.6,337.4 L386.0,337.3 L386.5,337.2 L386.9,337.1 L387.3,336.9 L387.7,336.8 L388.1,336.6 L388.5,336.5 L388.9,336.3 L389.3,336.1 L389.7,335.8 L390.2,335.6 L390.6,335.3 L391.0,334.9 L391.4,334.6 L391.8,334.2 L392.2,333.7 L392.6,333.2 L393.0,332.6 L393.4,332.0 L393.9,331.3 L394.3,330.6 L394.7,329.7 L395.1,328.8 L395.5,327.8 L395.9,326.6 L396.3,325.4 L396.7,324.1 L397.1,322.6 L397.6,321.0 L398.0,319.3 L398.4,317.5 L398.8,315.5 L399.2,313.4 L399.6,311.1 L400.0,308.7 L400.4,306.1 L400.8,303.4 L401.3,300.5 L401.7,297.5 L402.1,294.4 L402.5,291.1 L402.9,287.6 L403.3,284.1 L403.7,280.4 L404.1,276.6 L404.5,272.8 L405.0,268.8 L405.4,264.8 L405.8,260.7 L406.2,256.6 L406.6,252.5 L407.0,248.4 L407.4,244.4 L407.8,240.4 L408.2,236.4 L408.7,232.6 L409.1,228.9 L409.5,225.4 L409.9,222.0 L410.3,218.9 L410.7,215.9 L411.1,213.2 L411.5,210.8 L411.9,208.7 L412.4,206.9 L412.8,205.4 L413.2,204.3 L413.6,203.4 L414.0,203.0 L414.4,202.9 L414.8,203.2 L415.2,203.8 L415.6,204.8 L416.0,206.1 L416.5,207.8 L416.9,209.8 L417.3,212.0 L417.7,214.6 L418.1,217.4 L418.5,220.4 L418.9,223.7 L419.3,227.2 L419.7,230.8 L420.2,234.5 L420.6,238.4 L421.0,242.4 L421.4,246.4 L421.8,250.5 L422.2,254.6 L422.6,258.7 L423.0,262.8 L423.4,266.8 L423.9,270.8 L424.3,274.7 L424.7,278.5 L425.1,282.3 L425.5,285.9 L425.9,289.4 L426.3,292.7 L426.7,295.9 L427.1,299.0 L427.6,302.0 L428.0,304.7 L428.4,307.4 L428.8,309.9 L429.2,312.2 L429.6,314.4 L430.0,316.4 L430.4,318.3 L430.8,320.1 L431.3,321.7 L431.7,323.2 L432.1,324.6 L432.5,325.9 L432.9,327.1 L433.3,328.1 L433.7,329.1 L434.1,330.0 L434.5,330.8 L435.0,331.5 L435.4,332.1 L435.8,332.7 L436.2,333.2 L436.6,333.7 L437.0,334.1 L437.4,334.4 L437.8,334.7 L438.2,335.0 L438.7,335.2 L439.1,335.4 L439.5,335.6 L439.9,335.7 L440.3,335.9 L440.7,335.9 L441.1,336.0 L441.5,336.1 L441.9,336.1 L442.4,336.1 L442.8,336.1 L443.2,336.0 L443.6,336.0 L444.0,335.9 L444.4,335.8 L444.8,335.7 L445.2,335.6 L445.6,335.4 L446.1,335.3 L446.5,335.1 L446.9,334.9 L447.3,334.6 L447.7,334.4 L448.1,334.1 L448.5,333.8 L448.9,333.5 L449.3,333.1 L449.8,332.7 L450.2,332.3 L450.6,331.9 L451.0,331.5 L451.4,331.0 L451.8,330.5 L452.2,330.0 L452.6,329.5 L453.0,329.0 L453.5,328.4 L453.9,327.8 L454.3,327.3 L454.7,326.7 L455.1,326.1 L455.5,325.5 L455.9,324.9 L456.3,324.3 L456.7,323.7 L457.2,323.1 L457.6,322.5 L458.0,321.9 L458.4,321.4 L458.8,320.9 L459.2,320.4 L459.6,319.9 L460.0,319.5 L460.4,319.1 L460.9,318.8 L461.3,318.5 L461.7,318.2 L462.1,318.0 L462.5,317.8 L462.9,317.7 L463.3,317.7 L463.7,317.7 L464.1,317.8 L464.5,317.9 L465.0,318.0 L465.4,318.2 L465.8,318.5 L466.2,318.8 L466.6,319.2 L467.0,319.6 L467.4,320.0 L467.8,320.5 L468.2,321.0 L468.7,321.5 L469.1,322.1 L469.5,322.6 L469.9,323.2 L470.3,323.8 L470.7,324.4 L471.1,325.0 L471.5,325.7 L471.9,326.3 L472.4,326.9 L472.8,327.5 L473.2,328.1 L473.6,328.7 L474.0,329.3 L474.4,329.8 L474.8,330.4 L475.2,330.9 L475.6,331.4 L476.1,331.9 L476.5,332.3 L476.9,332.8 L477.3,333.2 L477.7,333.6 L478.1,334.0 L478.5,334.3 L478.9,334.6 L479.3,334.9 L479.8,335.2 L480.2,335.5 L480.6,335.7 L481.0,336.0 L481.4,336.2 L481.8,336.4 L482.2,336.5 L482.6,336.7 L483.0,336.8 L483.5,337.0 L483.9,337.1 L484.3,337.2 L484.7,337.3 L485.1,337.4 L485.5,337.5 L485.9,337.5 L486.3,337.6 L486.7,337.6 L487.2,337.7 L487.6,337.7 L488.0,337.8 L488.4,337.8 L488.8,337.8 L489.2,337.9 L489.6,337.9 L490.0,337.9 L490.4,337.9 L490.9,337.9 L491.3,337.9 L491.7,338.0 L492.1,338.0 L492.5,338.0 L492.9,338.0 L493.3,338.0 L493.7,338.0 L494.1,338.0 L494.6,338.0 L495.0,338.0 L495.4,337.9 L495.8,337.9 L496.2,337.9 L496.6,337.9 L497.0,337.9 L497.4,337.9 L497.8,337.9 L498.3,337.8 L498.7,337.8 L499.1,337.8 L499.5,337.8 L499.9,337.7 L500.3,337.7 L500.7,337.7 L501.1,337.6 L501.5,337.6 L502.0,337.6 L502.4,337.5 L502.8,337.5 L503.2,337.4 L503.6,337.4 L504.0,337.3 L504.4,337.3 L504.8,337.3 L505.2,337.2 L505.7,337.2 L506.1,337.1 L506.5,337.1 L506.9,337.0 L507.3,337.0 L507.7,337.0 L508.1,336.9 L508.5,336.9 L508.9,336.9 L509.4,336.8 L509.8,336.8 L510.2,336.8 L510.6,336.8 L511.0,336.7 L511.4,336.7 L511.8,336.7 L512.2,336.7 L512.6,336.7 L513.0,336.7 L513.5,336.7 L513.9,336.7 L514.3,336.7 L514.7,336.8 L515.1,336.8 L515.5,336.8 L515.9,336.8 L516.3,336.9 L516.7,336.9 L517.2,336.9 L517.6,337.0 L518.0,337.0 L518.4,337.1 L518.8,337.1 L519.2,337.2 L519.6,337.2 L520.0,337.3 L520.4,337.3 L520.9,337.3 L521.3,337.4 L521.7,337.4 L522.1,337.5 L522.5,337.5 L522.9,337.6 L523.3,337.6 L523.7,337.7 L524.1,337.7 L524.6,337.7 L525.0,337.8 L525.4,337.8 L525.8,337.9 L526.2,337.9 L526.6,337.9 L527.0,338.0 L527.4,338.0 L527.8,338.0 L528.3,338.0 L528.7,338.1 L529.1,338.1 L529.5,338.1 L529.9,338.1 L530.3,338.1 L530.7,338.1 L531.1,338.2 L531.5,338.2 L532.0,338.2 L532.4,338.2 L532.8,338.2 L533.2,338.2 L533.6,338.2 L534.0,338.2 L534.4,338.2 L534.8,338.2 L535.2,338.3 L535.7,338.3 L536.1,338.3 L536.5,338.3 L536.9,338.3 L537.3,338.3"/>
<path stroke="#ff4a10" d="M291.1,336.7 L291.5,336.7 L291.9,336.7 L292.3,336.7 L292.7,336.7 L293.2,336.7 L293.6,336.7 L294.0,336.7 L294.4,336.8 L294.8,336.8 L295.2,336.8 L295.6,336.8 L296.0,336.8 L296.4,336.9 L296.9,336.9 L297.3,336.9 L297.7,337.0 L298.1,337.0 L298.5,337.1 L298.9,337.1 L299.3,337.1 L299.7,337.2 L300.1,337.2 L300.6,337.3 L301.0,337.3 L301.4,337.4 L301.8,337.4 L302.2,337.5 L302.6,337.5 L303.0,337.5 L303.4,337.6 L303.8,337.6 L304.3,337.6 L304.7,337.7 L305.1,337.7 L305.5,337.7 L305.9,337.8 L306.3,337.8 L306.7,337.8 L307.1,337.8 L307.5,337.9 L308.0,337.9 L308.4,337.9 L308.8,337.9 L309.2,337.9 L309.6,337.9 L310.0,337.9 L310.4,338.0 L310.8,338.0 L311.2,338.0 L311.7,338.0 L312.1,338.0 L312.5,338.0 L312.9,338.0 L313.3,338.0 L313.7,338.0 L314.1,337.9 L314.5,337.9 L314.9,337.9 L315.4,337.9 L315.8,337.9 L316.2,337.9 L316.6,337.8 L317.0,337.8 L317.4,337.8 L317.8,337.7 L318.2,337.7 L318.6,337.6 L319.0,337.6 L319.5,337.5 L319.9,337.4 L320.3,337.3 L320.7,337.3 L321.1,337.2 L321.5,337.0 L321.9,336.9 L322.3,336.8 L322.7,336.6 L323.2,336.5 L323.6,336.3 L324.0,336.1 L324.4,335.9 L324.8,335.6 L325.2,335.4 L325.6,335.1 L326.0,334.8 L326.4,334.5 L326.9,334.2 L327.3,333.8 L327.7,333.4 L328.1,333.0 L328.5,332.6 L328.9,332.1 L329.3,331.7 L329.7,331.2 L330.1,330.7 L330.6,330.1 L331.0,329.6 L331.4,329.0 L331.8,328.4 L332.2,327.8 L332.6,327.2 L333.0,326.6 L333.4,326.0 L333.8,325.4 L334.3,324.8 L334.7,324.2 L335.1,323.5 L335.5,323.0 L335.9,322.4 L336.3,321.8 L336.7,321.3 L337.1,320.7 L337.5,320.3 L338.0,319.8 L338.4,319.4 L338.8,319.0 L339.2,318.7 L339.6,318.4 L340.0,318.1 L340.4,317.9 L340.8,317.8 L341.2,317.7 L341.7,317.7 L342.1,317.7 L342.5,317.8 L342.9,317.9 L343.3,318.1 L343.7,318.3 L344.1,318.6 L344.5,318.9 L344.9,319.3 L345.4,319.7 L345.8,320.1 L346.2,320.6 L346.6,321.1 L347.0,321.6 L347.4,322.2 L347.8,322.7 L348.2,323.3 L348.6,323.9 L349.1,324.5 L349.5,325.1 L349.9,325.7 L350.3,326.3 L350.7,326.9 L351.1,327.5 L351.5,328.1 L351.9,328.7 L352.3,329.2 L352.8,329.7 L353.2,330.3 L353.6,330.8 L354.0,331.2 L354.4,331.7 L354.8,332.1 L355.2,332.5 L355.6,332.9 L356.0,333.3 L356.5,333.6 L356.9,333.9 L357.3,334.2 L357.7,334.5 L358.1,334.7 L358.5,334.9 L358.9,335.1 L359.3,335.3 L359.7,335.5 L360.2,335.6 L360.6,335.8 L361.0,335.9 L361.4,335.9 L361.8,336.0 L362.2,336.0 L362.6,336.1 L363.0,336.1 L363.4,336.1 L363.9,336.0 L364.3,336.0 L364.7,335.9 L365.1,335.8 L365.5,335.7 L365.9,335.5 L366.3,335.3 L366.7,335.1 L367.1,334.9 L367.5,334.6 L368.0,334.3 L368.4,333.9 L368.8,333.5 L369.2,333.0 L369.6,332.4 L370.0,331.8 L370.4,331.2 L370.8,330.4 L371.2,329.6 L371.7,328.7 L372.1,327.7 L372.5,326.6 L372.9,325.3 L373.3,324.0 L373.7,322.6 L374.1,321.0 L374.5,319.3 L374.9,317.5 L375.4,315.5 L375.8,313.4 L376.2,311.2 L376.6,308.8 L377.0,306.2 L377.4,303.5 L377.8,300.7 L378.2,297.7 L378.6,294.5 L379.1,291.2 L379.5,287.8 L379.9,284.3 L380.3,280.6 L380.7,276.8 L381.1,273.0 L381.5,269.0 L381.9,265.0 L382.3,261.0 L382.8,256.9 L383.2,252.8 L383.6,248.7 L384.0,244.6 L384.4,240.6 L384.8,236.7 L385.2,232.9 L385.6,229.2 L386.0,225.6 L386.5,222.2 L386.9,219.1 L387.3,216.1 L387.7,213.4 L388.1,211.0 L388.5,208.8 L388.9,207.0 L389.3,205.5 L389.7,204.3 L390.2,203.5 L390.6,203.0 L391.0,202.9 L391.4,203.2 L391.8,203.8 L392.2,204.7 L392.6,206.0 L393.0,207.7 L393.4,209.6 L393.9,211.9 L394.3,214.4 L394.7,217.2 L395.1,220.2 L395.5,223.5 L395.9,226.9 L396.3,230.6 L396.7,234.3 L397.1,238.2 L397.6,242.1 L398.0,246.2 L398.4,250.3 L398.8,254.4 L399.2,258.5 L399.6,262.5 L400.0,266.6 L400.4,270.6 L400.8,274.5 L401.3,278.3 L401.7,282.1 L402.1,285.7 L402.5,289.2 L402.9,292.6 L403.3,295.8 L403.7,298.9 L404.1,301.8 L404.5,304.6 L405.0,307.3 L405.4,309.8 L405.8,312.1 L406.2,314.3 L406.6,316.4 L407.0,318.3 L407.4,320.1 L407.8,321.7 L408.2,323.3 L408.7,324.7 L409.1,326.0 L409.5,327.1 L409.9,328.2 L410.3,329.2 L410.7,330.1 L411.1,330.9 L411.5,331.6 L411.9,332.3 L412.4,332.9 L412.8,333.4 L413.2,333.9 L413.6,334.4 L414.0,334.7 L414.4,335.1 L414.8,335.4 L415.2,335.7 L415.6,335.9 L416.0,336.2 L416.5,336.4 L416.9,336.5 L417.3,336.7 L417.7,336.8 L418.1,337.0 L418.5,337.1 L418.9,337.2 L419.3,337.3 L419.7,337.4 L420.2,337.5 L420.6,337.6 L421.0,337.7 L421.4,337.8 L421.8,337.8 L422.2,337.9 L422.6,338.0 L423.0,338.1 L423.4,338.1 L423.9,338.2 L424.3,338.3 L424.7,338.4 L425.1,338.4 L425.5,338.5 L425.9,338.6 L426.3,338.7 L426.7,338.7 L427.1,338.8 L427.6,338.9 L428.0,339.0 L428.4,339.1 L428.8,339.1 L429.2,339.2 L429.6,339.3 L430.0,339.4 L430.4,339.5 L430.8,339.5 L431.3,339.6 L431.7,339.7 L432.1,339.8 L432.5,339.8 L432.9,339.9 L433.3,340.0 L433.7,340.0 L434.1,340.1 L434.5,340.2 L435.0,340.2 L435.4,340.3 L435.8,340.3 L436.2,340.4 L436.6,340.4 L437.0,340.5 L437.4,340.5 L437.8,340.6 L438.2,340.6 L438.7,340.6 L439.1,340.6 L439.5,340.7 L439.9,340.7 L440.3,340.7 L440.7,340.7 L441.1,340.7 L441.5,340.7 L441.9,340.7 L442.4,340.6 L442.8,340.6 L443.2,340.6 L443.6,340.6 L444.0,340.5 L444.4,340.5 L444.8,340.5 L445.2,340.4 L445.6,340.4 L446.1,340.3 L446.5,340.3 L446.9,340.2 L447.3,340.2 L447.7,340.1 L448.1,340.0 L448.5,340.0 L448.9,339.9 L449.3,339.9 L449.8,339.8 L450.2,339.7 L450.6,339.7 L451.0,339.6 L451.4,339.5 L451.8,339.5 L452.2,339.4 L452.6,339.4 L453.0,339.3 L453.5,339.2 L453.9,339.2 L454.3,339.1 L454.7,339.1 L455.1,339.0 L455.5,339.0 L455.9,338.9 L456.3,338.9 L456.7,338.8 L457.2,338.8 L457.6,338.8 L458.0,338.7 L458.4,338.7 L458.8,338.6 L459.2,338.6 L459.6,338.6 L460.0,338.6 L460.4,338.5 L460.9,338.5 L461.3,338.5 L461.7,338.5 L462.1,338.4 L462.5,338.4 L462.9,338.4 L463.3,338.4 L463.7,338.4 L464.1,338.4 L464.5,338.3 L465.0,338.3 L465.4,338.3 L465.8,338.3 L466.2,338.3 L466.6,338.3 L467.0,338.3 L467.4,338.3 L467.8,338.3 L468.2,338.3 L468.7,338.3 L469.1,338.3 L469.5,338.3 L469.9,338.3 L470.3,338.3 L470.7,338.3 L471.1,338.3 L471.5,338.3 L471.9,338.3 L472.4,338.3 L472.8,338.3 L473.2,338.3 L473.6,338.3 L474.0,338.3 L474.4,338.3 L474.8,338.3 L475.2,338.3 L475.6,338.3 L476.1,338.3 L476.5,338.3 L476.9,338.3 L477.3,338.3 L477.7,338.3 L478.1,338.3 L478.5,338.3 L478.9,338.3 L479.3,338.3 L479.8,338.3 L480.2,338.3 L480.6,338.3 L481.0,338.3 L481.4,338.3 L481.8,338.3 L482.2,338.3 L482.6,338.3 L483.0,338.3 L483.5,338.3 L483.9,338.3 L484.3,338.3 L484.7,338.3 L485.1,338.3 L485.5,338.3 L485.9,338.3 L486.3,338.3 L486.7,338.3 L487.2,338.3 L487.6,338.3 L488.0,338.3 L488.4,338.3 L488.8,338.3 L489.2,338.3 L489.6,338.3 L490.0,338.3 L490.4,338.3 L490.9,338.3 L491.3,338.3 L491.7,338.3 L492.1,338.3 L492.5,338.3 L492.9,338.3 L493.3,338.3 L493.7,338.3 L494.1,338.3 L494.6,338.3 L495.0,338.3 L495.4,338.3 L495.8,338.3 L496.2,338.3 L496.6,338.3 L497.0,338.3 L497.4,338.3 L497.8,338.3 L498.3,338.3 L498.7,338.3 L499.1,338.3 L499.5,338.3 L499.9,338.3 L500.3,338.3 L500.7,338.3 L501.1,338.3 L501.5,338.3 L502.0,338.3 L502.4,338.3 L502.8,338.3 L503.2,338.3 L503.6,338.3 L504.0,338.3 L504.4,338.3 L504.8,338.3 L505.2,338.3 L505.7,338.3 L506.1,338.3 L506.5,338.3 L506.9,338.3 L507.3,338.3 L507.7,338.3 L508.1,338.3 L508.5,338.3 L508.9,338.3 L509.4,338.3 L509.8,338.3 L510.2,338.3 L510.6,338.3 L511.0,338.3 L511.4,338.3 L511.8,338.3 L512.2,338.3 L512.6,338.3 L513.0,338.3 L513.5,338.3 L513.9,338.3 L514.3,338.3 L514.7,338.3 L515.1,338.3 L515.5,338.3 L515.9,338.3 L516.3,338.3 L516.7,338.3 L517.2,338.3 L517.6,338.3 L518.0,338.3 L518.4,338.3 L518.8,338.3 L519.2,338.3 L519.6,338.3 L520.0,338.3 L520.4,338.3 L520.9,338.3 L521.3,338.3 L521.7,338.3 L522.1,338.3 L522.5,338.3 L522.9,338.3 L523.3,338.3 L523.7,338.3 L524.1,338.3 L524.6,338.3 L525.0,338.3 L525.4,338.3 L525.8,338.3 L526.2,338.3 L526.6,338.3 L527.0,338.3 L527.4,338.3 L527.8,338.3 L528.3,338.3 L528.7,338.3 L529.1,338.3 L529.5,338.3 L529.9,338.3 L530.3,338.3 L530.7,338.3 L531.1,338.3 L531.5,338.3 L532.0,338.3 L532.4,338.3 L532.8,338.3 L533.2,338.3 L533.6,338.3 L534.0,338.3 L534.4,338.3 L534.8,338.3 L535.2,338.3 L535.7,338.3 L536.1,338.3 L536.5,338.3 L536.9,338.3 L537.3,338.4"/>
<path stroke="#1a6cff" d="M291.1,495.1 L291.5,495.1 L291.9,495.1 L292.3,495.1 L292.7,495.1 L293.2,495.1 L293.6,495.1 L294.0,495.1 L294.4,495.1 L294.8,495.1 L295.2,495.1 L295.6,495.1 L296.0,495.1 L296.4,495.1 L296.9,495.1 L297.3,495.1 L297.7,495.1 L298.1,495.1 L298.5,495.1 L298.9,495.1 L299.3,495.1 L299.7,495.1 L300.1,495.1 L300.6,495.1 L301.0,495.1 L301.4,495.1 L301.8,495.1 L302.2,495.1 L302.6,495.1 L303.0,495.1 L303.4,495.1 L303.8,495.1 L304.3,495.1 L304.7,495.1 L305.1,495.0 L305.5,495.0 L305.9,495.0 L306.3,495.0 L306.7,495.0 L307.1,495.0 L307.5,495.0 L308.0,495.0 L308.4,495.0 L308.8,495.0 L309.2,495.0 L309.6,495.0 L310.0,495.0 L310.4,495.0 L310.8,495.0 L311.2,495.0 L311.7,495.0 L312.1,495.0 L312.5,495.0 L312.9,495.0 L313.3,495.0 L313.7,495.0 L314.1,495.0 L314.5,495.0 L314.9,495.0 L315.4,495.0 L315.8,495.0 L316.2,495.0 L316.6,495.0 L317.0,495.0 L317.4,495.0 L317.8,495.0 L318.2,495.0 L318.6,494.9 L319.0,494.9 L319.5,494.9 L319.9,494.9 L320.3,494.9 L320.7,494.9 L321.1,494.9 L321.5,494.9 L321.9,494.9 L322.3,494.9 L322.7,494.9 L323.2,494.9 L323.6,494.9 L324.0,494.9 L324.4,494.9 L324.8,494.9 L325.2,494.9 L325.6,494.9 L326.0,494.9 L326.4,494.9 L326.9,494.9 L327.3,494.9 L327.7,494.9 L328.1,494.9 L328.5,494.8 L328.9,494.8 L329.3,494.8 L329.7,494.8 L330.1,494.8 L330.6,494.8 L331.0,494.8 L331.4,494.8 L331.8,494.8 L332.2,494.8 L332.6,494.8 L333.0,494.8 L333.4,494.8 L333.8,494.8 L334.3,494.8 L334.7,494.8 L335.1,494.8 L335.5,494.8 L335.9,494.8 L336.3,494.8 L336.7,494.8 L337.1,494.8 L337.5,494.8 L338.0,494.8 L338.4,494.8 L338.8,494.8 L339.2,494.8 L339.6,494.8 L340.0,494.8 L340.4,494.8 L340.8,494.8 L341.2,494.8 L341.7,494.8 L342.1,494.8 L342.5,494.8 L342.9,494.8 L343.3,494.8 L343.7,494.8 L344.1,494.8 L344.5,494.8 L344.9,494.8 L345.4,494.9 L345.8,494.9 L346.2,494.9 L346.6,494.9 L347.0,494.9 L347.4,494.9 L347.8,495.0 L348.2,495.0 L348.6,495.0 L349.1,495.0 L349.5,495.1 L349.9,495.1 L350.3,495.1 L350.7,495.2 L351.1,495.2 L351.5,495.2 L351.9,495.3 L352.3,495.3 L352.8,495.3 L353.2,495.4 L353.6,495.4 L354.0,495.4 L354.4,495.5 L354.8,495.5 L355.2,495.6 L355.6,495.6 L356.0,495.6 L356.5,495.7 L356.9,495.7 L357.3,495.7 L357.7,495.8 L358.1,495.8 L358.5,495.8 L358.9,495.9 L359.3,495.9 L359.7,495.9 L360.2,495.9 L360.6,496.0 L361.0,496.0 L361.4,496.0 L361.8,496.0 L362.2,496.0 L362.6,496.0 L363.0,496.0 L363.4,496.0 L363.9,496.0 L364.3,496.0 L364.7,496.0 L365.1,495.9 L365.5,495.9 L365.9,495.9 L366.3,495.9 L366.7,495.8 L367.1,495.8 L367.5,495.7 L368.0,495.7 L368.4,495.6 L368.8,495.6 L369.2,495.5 L369.6,495.5 L370.0,495.4 L370.4,495.3 L370.8,495.2 L371.2,495.2 L371.7,495.1 L372.1,495.0 L372.5,494.9 L372.9,494.8 L373.3,494.7 L373.7,494.6 L374.1,494.5 L374.5,494.4 L374.9,494.3 L375.4,494.2 L375.8,494.1 L376.2,494.0 L376.6,493.9 L377.0,493.8 L377.4,493.7 L377.8,493.6 L378.2,493.4 L378.6,493.3 L379.1,493.2 L379.5,493.0 L379.9,492.9 L380.3,492.7 L380.7,492.6 L381.1,492.4 L381.5,492.2 L381.9,492.1 L382.3,491.9 L382.8,491.7 L383.2,491.5 L383.6,491.2 L384.0,491.0 L384.4,490.8 L384.8,490.5 L385.2,490.2 L385.6,489.9 L386.0,489.6 L386.5,489.2 L386.9,488.8 L387.3,488.4 L387.7,488.0 L388.1,487.5 L388.5,487.0 L388.9,486.4 L389.3,485.9 L389.7,485.2 L390.2,484.6 L390.6,483.9 L391.0,483.1 L391.4,482.3 L391.8,481.4 L392.2,480.5 L392.6,479.5 L393.0,478.4 L393.4,477.3 L393.9,476.1 L394.3,474.8 L394.7,473.5 L395.1,472.1 L395.5,470.6 L395.9,469.1 L396.3,467.4 L396.7,465.7 L397.1,463.9 L397.6,462.0 L398.0,460.0 L398.4,458.0 L398.8,455.8 L399.2,453.6 L399.6,451.3 L400.0,448.9 L400.4,446.5 L400.8,444.0 L401.3,441.4 L401.7,438.7 L402.1,436.0 L402.5,433.2 L402.9,430.4 L403.3,427.5 L403.7,424.6 L404.1,421.7 L404.5,418.7 L405.0,415.7 L405.4,412.7 L405.8,409.7 L406.2,406.7 L406.6,403.7 L407.0,400.8 L407.4,397.9 L407.8,395.0 L408.2,392.2 L408.7,389.5 L409.1,386.9 L409.5,384.3 L409.9,381.9 L410.3,379.6 L410.7,377.4 L411.1,375.4 L411.5,373.5 L411.9,371.7 L412.4,370.2 L412.8,368.8 L413.2,367.6 L413.6,366.6 L414.0,365.8 L414.4,365.2 L414.8,364.8 L415.2,364.6 L415.6,364.6 L416.0,364.9 L416.5,365.3 L416.9,365.9 L417.3,366.7 L417.7,367.7 L418.1,368.8 L418.5,370.2 L418.9,371.6 L419.3,373.3 L419.7,375.0 L420.2,376.9 L420.6,379.0 L421.0,381.1 L421.4,383.3 L421.8,385.6 L422.2,388.0 L422.6,390.5 L423.0,393.0 L423.4,395.6 L423.9,398.2 L424.3,400.9 L424.7,403.5 L425.1,406.2 L425.5,409.0 L425.9,411.7 L426.3,414.4 L426.7,417.1 L427.1,419.8 L427.6,422.5 L428.0,425.1 L428.4,427.7 L428.8,430.3 L429.2,432.8 L429.6,435.3 L430.0,437.8 L430.4,440.1 L430.8,442.4 L431.3,444.7 L431.7,446.9 L432.1,449.0 L432.5,451.1 L432.9,453.1 L433.3,455.0 L433.7,456.9 L434.1,458.6 L434.5,460.4 L435.0,462.0 L435.4,463.6 L435.8,465.1 L436.2,466.5 L436.6,467.9 L437.0,469.1 L437.4,470.4 L437.8,471.5 L438.2,472.6 L438.7,473.7 L439.1,474.6 L439.5,475.6 L439.9,476.4 L440.3,477.2 L440.7,477.9 L441.1,478.6 L441.5,479.3 L441.9,479.8 L442.4,480.4 L442.8,480.9 L443.2,481.3 L443.6,481.7 L444.0,482.0 L444.4,482.3 L444.8,482.6 L445.2,482.8 L445.6,483.0 L446.1,483.1 L446.5,483.2 L446.9,483.3 L447.3,483.3 L447.7,483.3 L448.1,483.3 L448.5,483.3 L448.9,483.2 L449.3,483.1 L449.8,482.9 L450.2,482.8 L450.6,482.6 L451.0,482.4 L451.4,482.1 L451.8,481.9 L452.2,481.6 L452.6,481.3 L453.0,481.0 L453.5,480.7 L453.9,480.4 L454.3,480.1 L454.7,479.7 L455.1,479.4 L455.5,479.0 L455.9,478.7 L456.3,478.3 L456.7,478.0 L457.2,477.6 L457.6,477.3 L458.0,476.9 L458.4,476.6 L458.8,476.3 L459.2,476.0 L459.6,475.7 L460.0,475.4 L460.4,475.2 L460.9,475.0 L461.3,474.8 L461.7,474.6 L462.1,474.4 L462.5,474.3 L462.9,474.2 L463.3,474.1 L463.7,474.1 L464.1,474.0 L464.5,474.1 L465.0,474.1 L465.4,474.2 L465.8,474.3 L466.2,474.4 L466.6,474.6 L467.0,474.7 L467.4,474.9 L467.8,475.2 L468.2,475.4 L468.7,475.7 L469.1,476.0 L469.5,476.3 L469.9,476.6 L470.3,477.0 L470.7,477.3 L471.1,477.7 L471.5,478.1 L471.9,478.5 L472.4,478.9 L472.8,479.3 L473.2,479.7 L473.6,480.1 L474.0,480.5 L474.4,481.0 L474.8,481.4 L475.2,481.8 L475.6,482.2 L476.1,482.7 L476.5,483.1 L476.9,483.5 L477.3,483.9 L477.7,484.3 L478.1,484.7 L478.5,485.1 L478.9,485.5 L479.3,485.9 L479.8,486.2 L480.2,486.6 L480.6,486.9 L481.0,487.3 L481.4,487.6 L481.8,487.9 L482.2,488.2 L482.6,488.5 L483.0,488.8 L483.5,489.1 L483.9,489.4 L484.3,489.6 L484.7,489.9 L485.1,490.1 L485.5,490.4 L485.9,490.6 L486.3,490.8 L486.7,491.0 L487.2,491.2 L487.6,491.3 L488.0,491.5 L488.4,491.7 L488.8,491.8 L489.2,492.0 L489.6,492.1 L490.0,492.2 L490.4,492.3 L490.9,492.5 L491.3,492.6 L491.7,492.7 L492.1,492.7 L492.5,492.8 L492.9,492.9 L493.3,493.0 L493.7,493.0 L494.1,493.1 L494.6,493.2 L495.0,493.2 L495.4,493.3 L495.8,493.3 L496.2,493.3 L496.6,493.4 L497.0,493.4 L497.4,493.4 L497.8,493.5 L498.3,493.5 L498.7,493.5 L499.1,493.5 L499.5,493.5 L499.9,493.5 L500.3,493.5 L500.7,493.5 L501.1,493.5 L501.5,493.5 L502.0,493.5 L502.4,493.5 L502.8,493.5 L503.2,493.5 L503.6,493.5 L504.0,493.5 L504.4,493.4 L504.8,493.4 L505.2,493.4 L505.7,493.4 L506.1,493.4 L506.5,493.4 L506.9,493.4 L507.3,493.3 L507.7,493.3 L508.1,493.3 L508.5,493.3 L508.9,493.3 L509.4,493.3 L509.8,493.3 L510.2,493.3 L510.6,493.2 L511.0,493.2 L511.4,493.2 L511.8,493.2 L512.2,493.2 L512.6,493.2 L513.0,493.2 L513.5,493.2 L513.9,493.2 L514.3,493.3 L514.7,493.3 L515.1,493.3 L515.5,493.3 L515.9,493.3 L516.3,493.3 L516.7,493.4 L517.2,493.4 L517.6,493.4 L518.0,493.4 L518.4,493.5 L518.8,493.5 L519.2,493.5 L519.6,493.5 L520.0,493.6 L520.4,493.6 L520.9,493.6 L521.3,493.7 L521.7,493.7 L522.1,493.7 L522.5,493.8 L522.9,493.8 L523.3,493.9 L523.7,493.9 L524.1,493.9 L524.6,494.0 L525.0,494.0 L525.4,494.0 L525.8,494.1 L526.2,494.1 L526.6,494.1 L527.0,494.2 L527.4,494.2 L527.8,494.2 L528.3,494.3 L528.7,494.3 L529.1,494.3 L529.5,494.4 L529.9,494.4 L530.3,494.4 L530.7,494.4 L531.1,494.5 L531.5,494.5 L532.0,494.5 L532.4,494.5 L532.8,494.6 L533.2,494.6 L533.6,494.6 L534.0,494.6 L534.4,494.7 L534.8,494.7 L535.2,494.7 L535.7,494.7 L536.1,494.7 L536.5,494.7 L536.9,494.8 L537.3,494.8"/>
<path stroke="#ff4a10" d="M291.1,493.2 L291.5,493.2 L291.9,493.2 L292.3,493.2 L292.7,493.2 L293.2,493.2 L293.6,493.2 L294.0,493.2 L294.4,493.2 L294.8,493.3 L295.2,493.3 L295.6,493.3 L296.0,493.3 L296.4,493.3 L296.9,493.3 L297.3,493.3 L297.7,493.3 L298.1,493.4 L298.5,493.4 L298.9,493.4 L299.3,493.4 L299.7,493.4 L300.1,493.4 L300.6,493.5 L301.0,493.5 L301.4,493.5 L301.8,493.5 L302.2,493.5 L302.6,493.5 L303.0,493.5 L303.4,493.5 L303.8,493.5 L304.3,493.5 L304.7,493.5 L305.1,493.5 L305.5,493.5 L305.9,493.5 L306.3,493.5 L306.7,493.5 L307.1,493.4 L307.5,493.4 L308.0,493.4 L308.4,493.4 L308.8,493.3 L309.2,493.3 L309.6,493.2 L310.0,493.2 L310.4,493.1 L310.8,493.1 L311.2,493.0 L311.7,493.0 L312.1,492.9 L312.5,492.8 L312.9,492.7 L313.3,492.6 L313.7,492.5 L314.1,492.4 L314.5,492.3 L314.9,492.2 L315.4,492.0 L315.8,491.9 L316.2,491.8 L316.6,491.6 L317.0,491.4 L317.4,491.3 L317.8,491.1 L318.2,490.9 L318.6,490.7 L319.0,490.5 L319.5,490.3 L319.9,490.0 L320.3,489.8 L320.7,489.5 L321.1,489.3 L321.5,489.0 L321.9,488.7 L322.3,488.4 L322.7,488.1 L323.2,487.8 L323.6,487.5 L324.0,487.1 L324.4,486.8 L324.8,486.4 L325.2,486.1 L325.6,485.7 L326.0,485.3 L326.4,484.9 L326.9,484.5 L327.3,484.1 L327.7,483.7 L328.1,483.3 L328.5,482.9 L328.9,482.5 L329.3,482.1 L329.7,481.6 L330.1,481.2 L330.6,480.8 L331.0,480.4 L331.4,479.9 L331.8,479.5 L332.2,479.1 L332.6,478.7 L333.0,478.3 L333.4,477.9 L333.8,477.5 L334.3,477.2 L334.7,476.8 L335.1,476.5 L335.5,476.2 L335.9,475.9 L336.3,475.6 L336.7,475.3 L337.1,475.1 L337.5,474.9 L338.0,474.7 L338.4,474.5 L338.8,474.3 L339.2,474.2 L339.6,474.1 L340.0,474.1 L340.4,474.1 L340.8,474.1 L341.2,474.1 L341.7,474.1 L342.1,474.2 L342.5,474.3 L342.9,474.5 L343.3,474.7 L343.7,474.8 L344.1,475.1 L344.5,475.3 L344.9,475.6 L345.4,475.8 L345.8,476.1 L346.2,476.4 L346.6,476.8 L347.0,477.1 L347.4,477.4 L347.8,477.8 L348.2,478.1 L348.6,478.5 L349.1,478.8 L349.5,479.2 L349.9,479.5 L350.3,479.9 L350.7,480.2 L351.1,480.5 L351.5,480.9 L351.9,481.2 L352.3,481.5 L352.8,481.7 L353.2,482.0 L353.6,482.2 L354.0,482.5 L354.4,482.7 L354.8,482.8 L355.2,483.0 L355.6,483.1 L356.0,483.2 L356.5,483.3 L356.9,483.3 L357.3,483.3 L357.7,483.3 L358.1,483.3 L358.5,483.2 L358.9,483.1 L359.3,482.9 L359.7,482.7 L360.2,482.5 L360.6,482.2 L361.0,481.9 L361.4,481.5 L361.8,481.1 L362.2,480.7 L362.6,480.2 L363.0,479.6 L363.4,479.0 L363.9,478.3 L364.3,477.6 L364.7,476.9 L365.1,476.1 L365.5,475.2 L365.9,474.2 L366.3,473.2 L366.7,472.2 L367.1,471.1 L367.5,469.9 L368.0,468.6 L368.4,467.3 L368.8,465.9 L369.2,464.4 L369.6,462.9 L370.0,461.3 L370.4,459.6 L370.8,457.9 L371.2,456.1 L371.7,454.2 L372.1,452.3 L372.5,450.2 L372.9,448.1 L373.3,446.0 L373.7,443.8 L374.1,441.5 L374.5,439.1 L374.9,436.7 L375.4,434.3 L375.8,431.8 L376.2,429.2 L376.6,426.6 L377.0,424.0 L377.4,421.4 L377.8,418.7 L378.2,416.0 L378.6,413.3 L379.1,410.5 L379.5,407.8 L379.9,405.1 L380.3,402.4 L380.7,399.7 L381.1,397.1 L381.5,394.5 L381.9,391.9 L382.3,389.4 L382.8,387.0 L383.2,384.6 L383.6,382.4 L384.0,380.2 L384.4,378.1 L384.8,376.1 L385.2,374.3 L385.6,372.6 L386.0,371.0 L386.5,369.6 L386.9,368.3 L387.3,367.2 L387.7,366.3 L388.1,365.6 L388.5,365.1 L388.9,364.7 L389.3,364.6 L389.7,364.7 L390.2,364.9 L390.6,365.4 L391.0,366.1 L391.4,367.0 L391.8,368.1 L392.2,369.3 L392.6,370.8 L393.0,372.4 L393.4,374.2 L393.9,376.2 L394.3,378.3 L394.7,380.5 L395.1,382.9 L395.5,385.4 L395.9,388.0 L396.3,390.6 L396.7,393.4 L397.1,396.2 L397.6,399.1 L398.0,402.0 L398.4,405.0 L398.8,408.0 L399.2,411.0 L399.6,414.0 L400.0,417.0 L400.4,419.9 L400.8,422.9 L401.3,425.8 L401.7,428.7 L402.1,431.6 L402.5,434.4 L402.9,437.2 L403.3,439.9 L403.7,442.5 L404.1,445.0 L404.5,447.5 L405.0,450.0 L405.4,452.3 L405.8,454.6 L406.2,456.7 L406.6,458.8 L407.0,460.9 L407.4,462.8 L407.8,464.6 L408.2,466.4 L408.7,468.1 L409.1,469.7 L409.5,471.2 L409.9,472.7 L410.3,474.1 L410.7,475.4 L411.1,476.6 L411.5,477.8 L411.9,478.9 L412.4,479.9 L412.8,480.9 L413.2,481.8 L413.6,482.6 L414.0,483.4 L414.4,484.2 L414.8,484.9 L415.2,485.5 L415.6,486.1 L416.0,486.7 L416.5,487.2 L416.9,487.7 L417.3,488.2 L417.7,488.6 L418.1,489.0 L418.5,489.4 L418.9,489.7 L419.3,490.0 L419.7,490.3 L420.2,490.6 L420.6,490.9 L421.0,491.1 L421.4,491.3 L421.8,491.6 L422.2,491.8 L422.6,492.0 L423.0,492.1 L423.4,492.3 L423.9,492.5 L424.3,492.6 L424.7,492.8 L425.1,492.9 L425.5,493.1 L425.9,493.2 L426.3,493.4 L426.7,493.5 L427.1,493.6 L427.6,493.7 L428.0,493.8 L428.4,494.0 L428.8,494.1 L429.2,494.2 L429.6,494.3 L430.0,494.4 L430.4,494.5 L430.8,494.6 L431.3,494.7 L431.7,494.8 L432.1,494.9 L432.5,495.0 L432.9,495.0 L433.3,495.1 L433.7,495.2 L434.1,495.3 L434.5,495.4 L435.0,495.4 L435.4,495.5 L435.8,495.6 L436.2,495.6 L436.6,495.7 L437.0,495.7 L437.4,495.8 L437.8,495.8 L438.2,495.8 L438.7,495.9 L439.1,495.9 L439.5,495.9 L439.9,496.0 L440.3,496.0 L440.7,496.0 L441.1,496.0 L441.5,496.0 L441.9,496.0 L442.4,496.0 L442.8,496.0 L443.2,496.0 L443.6,496.0 L444.0,496.0 L444.4,495.9 L444.8,495.9 L445.2,495.9 L445.6,495.9 L446.1,495.9 L446.5,495.8 L446.9,495.8 L447.3,495.8 L447.7,495.7 L448.1,495.7 L448.5,495.6 L448.9,495.6 L449.3,495.6 L449.8,495.5 L450.2,495.5 L450.6,495.5 L451.0,495.4 L451.4,495.4 L451.8,495.3 L452.2,495.3 L452.6,495.3 L453.0,495.2 L453.5,495.2 L453.9,495.2 L454.3,495.1 L454.7,495.1 L455.1,495.1 L455.5,495.1 L455.9,495.0 L456.3,495.0 L456.7,495.0 L457.2,495.0 L457.6,494.9 L458.0,494.9 L458.4,494.9 L458.8,494.9 L459.2,494.9 L459.6,494.8 L460.0,494.8 L460.4,494.8 L460.9,494.8 L461.3,494.8 L461.7,494.8 L462.1,494.8 L462.5,494.8 L462.9,494.8 L463.3,494.8 L463.7,494.8 L464.1,494.8 L464.5,494.8 L465.0,494.8 L465.4,494.8 L465.8,494.8 L466.2,494.8 L466.6,494.8 L467.0,494.8 L467.4,494.8 L467.8,494.8 L468.2,494.8 L468.7,494.8 L469.1,494.8 L469.5,494.8 L469.9,494.8 L470.3,494.8 L470.7,494.8 L471.1,494.8 L471.5,494.8 L471.9,494.8 L472.4,494.8 L472.8,494.8 L473.2,494.8 L473.6,494.8 L474.0,494.8 L474.4,494.8 L474.8,494.8 L475.2,494.8 L475.6,494.8 L476.1,494.8 L476.5,494.8 L476.9,494.9 L477.3,494.9 L477.7,494.9 L478.1,494.9 L478.5,494.9 L478.9,494.9 L479.3,494.9 L479.8,494.9 L480.2,494.9 L480.6,494.9 L481.0,494.9 L481.4,494.9 L481.8,494.9 L482.2,494.9 L482.6,494.9 L483.0,494.9 L483.5,494.9 L483.9,494.9 L484.3,494.9 L484.7,494.9 L485.1,494.9 L485.5,494.9 L485.9,494.9 L486.3,495.0 L486.7,495.0 L487.2,495.0 L487.6,495.0 L488.0,495.0 L488.4,495.0 L488.8,495.0 L489.2,495.0 L489.6,495.0 L490.0,495.0 L490.4,495.0 L490.9,495.0 L491.3,495.0 L491.7,495.0 L492.1,495.0 L492.5,495.0 L492.9,495.0 L493.3,495.0 L493.7,495.0 L494.1,495.0 L494.6,495.0 L495.0,495.0 L495.4,495.0 L495.8,495.0 L496.2,495.0 L496.6,495.0 L497.0,495.0 L497.4,495.0 L497.8,495.0 L498.3,495.0 L498.7,495.0 L499.1,495.0 L499.5,495.0 L499.9,495.1 L500.3,495.1 L500.7,495.1 L501.1,495.1 L501.5,495.1 L502.0,495.1 L502.4,495.1 L502.8,495.1 L503.2,495.1 L503.6,495.1 L504.0,495.1 L504.4,495.1 L504.8,495.1 L505.2,495.1 L505.7,495.1 L506.1,495.1 L506.5,495.1 L506.9,495.1 L507.3,495.1 L507.7,495.1 L508.1,495.1 L508.5,495.1 L508.9,495.1 L509.4,495.1 L509.8,495.1 L510.2,495.1 L510.6,495.1 L511.0,495.1 L511.4,495.1 L511.8,495.1 L512.2,495.1 L512.6,495.1 L513.0,495.1 L513.5,495.1 L513.9,495.1 L514.3,495.1 L514.7,495.1 L515.1,495.1 L515.5,495.1 L515.9,495.1 L516.3,495.1 L516.7,495.1 L517.2,495.1 L517.6,495.1 L518.0,495.1 L518.4,495.1 L518.8,495.1 L519.2,495.1 L519.6,495.1 L520.0,495.1 L520.4,495.1 L520.9,495.1 L521.3,495.2 L521.7,495.2 L522.1,495.2 L522.5,495.2 L522.9,495.2 L523.3,495.2 L523.7,495.2 L524.1,495.2 L524.6,495.2 L525.0,495.2 L525.4,495.2 L525.8,495.2 L526.2,495.2 L526.6,495.2 L527.0,495.2 L527.4,495.2 L527.8,495.2 L528.3,495.2 L528.7,495.2 L529.1,495.2 L529.5,495.2 L529.9,495.2 L530.3,495.2 L530.7,495.2 L531.1,495.2 L531.5,495.2 L532.0,495.2 L532.4,495.2 L532.8,495.2 L533.2,495.2 L533.6,495.2 L534.0,495.2 L534.4,495.2 L534.8,495.2 L535.2,495.2 L535.7,495.2 L536.1,495.2 L536.5,495.2 L536.9,495.2 L537.3,495.2"/>
</g>
<g fill="none" stroke="#262626" stroke-width="1.25">
<rect x="44.4" y="37.7" width="246.70" height="151.70"/>
<rect x="291.1" y="37.7" width="246.20" height="151.70"/>
<rect x="44.4" y="189.4" width="246.70" height="151.10"/>
<rect x="291.1" y="189.4" width="246.20" height="151.10"/>
<rect x="44.4" y="347.4" width="246.70" height="150.90"/>
<rect x="291.1" y="347.4" width="246.20" height="150.90"/>
</g>
<path d="M106.07,189.4V186.4M106.07,37.7V40.300000000000004M167.75,189.4V186.4M167.75,37.7V40.300000000000004M229.43,189.4V186.4M229.43,37.7V40.300000000000004M44.4,113.55H47.699999999999996M291.1,113.55H288.1M106.07,340.5V335.3M106.07,189.4V192.0M167.75,340.5V335.3M167.75,189.4V192.0M229.43,340.5V335.3M229.43,189.4V192.0M44.4,264.95H47.699999999999996M291.1,264.95H288.1M106.07,498.3V493.1M106.07,347.4V350.0M167.75,498.3V493.1M167.75,347.4V350.0M229.43,498.3V493.1M229.43,347.4V350.0M44.4,422.85H47.699999999999996M291.1,422.85H288.1" stroke="#262626" stroke-width="1.3" fill="none"/>
<g font-family="Liberation Sans, Arial, Helvetica, sans-serif">
<text x="46.1" y="29.6" font-size="24.6" fill="#111" font-weight="400" letter-spacing="0.32">spectral density</text>
<text x="292.0" y="30.1" font-size="24.6" fill="#111" font-weight="400" letter-spacing="0.25">linear spectra</text>
<text x="14.4" y="55.1" font-size="37" fill="#000" font-weight="700" >a</text>
<text x="14.6" y="365.0" font-size="37.5" fill="#000" font-weight="700" >b</text>
<text x="0" y="0" font-size="24.5" fill="#111" font-weight="400" letter-spacing="0.3" transform="translate(31.8,242.6) rotate(-90)">one mode</text>
<text x="0" y="0" font-size="24.5" fill="#111" font-weight="400" letter-spacing="0.3" transform="translate(31.8,498.0) rotate(-90)">two modes</text>
<text x="222.5" y="526.9" font-size="19" fill="#111" font-weight="400" >frequency (THz)</text>
<text x="49.0" y="60.5" font-size="22.6" fill="#46526b" font-weight="400" >C&quot;(ω)</text>
<text x="79.8" y="123.2" font-size="22.4" fill="#46526b" font-weight="400" letter-spacing="-0.4">9 THz</text>
<text x="176.3" y="216.9" font-size="22.4" fill="#46526b" font-weight="400" letter-spacing="-0.55">40 THz</text>
<text x="176.3" y="374.4" font-size="22.4" fill="#46526b" font-weight="400" letter-spacing="-0.55">40 THz</text>
<text x="79.3" y="434.0" font-size="22.4" fill="#46526b" font-weight="400" letter-spacing="-0.4">9 THz</text>
<text x="294.1" y="55.0" font-size="22" fill="#0a62ff">σ</text>
<text x="304.3" y="59.6" font-size="14.6" fill="#0a62ff">abs</text>
<text x="327.6" y="54.7" font-size="19.3" fill="#0a62ff">(ω)</text>
<text x="294.1" y="74.6" font-size="22" fill="#ff4200">σ</text>
<text x="306.8" y="76.8" font-size="14.8" fill="#ff4200">fluor</text>
<text x="336.8" y="74.4" font-size="19.3" fill="#ff4200">(ω)</text>
<text x="449.7" y="54.1" font-size="17.6" fill="#0a62ff" font-weight="400" >absorption</text>
<text x="433.0" y="71.0" font-size="17.7" fill="#ff4200" font-weight="400" >fluorescence</text>
<text x="371.6" y="359.6" font-size="12" fill="#ff4200">ω</text>
<text x="381" y="354.4" font-size="9" fill="#ff4200">max</text>
<text x="380.8" y="361.5" font-size="9" fill="#ff4200">fluor</text>
<text x="402" y="359.6" font-size="12" fill="#0a62ff">ω</text>
<text x="411.2" y="354.4" font-size="9" fill="#0a62ff">max</text>
<text x="411.6" y="361.5" font-size="9" fill="#0a62ff">abs</text>
<text x="44.6" y="508.6" font-size="10.8" fill="#262626" font-weight="400" >0</text>
<text x="106.07499999999999" y="508.6" font-size="10.8" fill="#262626" font-weight="400" text-anchor="middle">20</text>
<text x="167.75" y="508.6" font-size="10.8" fill="#262626" font-weight="400" text-anchor="middle">40</text>
<text x="229.42500000000004" y="508.6" font-size="10.8" fill="#262626" font-weight="400" text-anchor="middle">60</text>
<text x="277.0" y="508.6" font-size="10.8" fill="#262626" font-weight="400" >80</text>
<text x="292.8" y="508.6" font-size="10.8" fill="#262626" font-weight="400" >400</text>
<text x="380.6" y="508.6" font-size="10.8" fill="#ff4200" font-weight="400" >480</text>
<text x="406.1" y="508.6" font-size="10.8" fill="#0a62ff" font-weight="400" >500</text>
<text x="519.2" y="508.6" font-size="10.8" fill="#262626" font-weight="400" >600</text>
<text x="276.0" y="47.6" font-size="10.8" fill="#262626" font-weight="400" >80</text>
<text x="282.2" y="186.0" font-size="10.8" fill="#262626" font-weight="400" >0</text>
<text x="276.0" y="199.4" font-size="10.8" fill="#262626" font-weight="400" >80</text>
<text x="282.2" y="337.7" font-size="10.8" fill="#262626" font-weight="400" >0</text>
<text x="276.0" y="357.9" font-size="10.8" fill="#262626" font-weight="400" >80</text>
<text x="282.2" y="496.8" font-size="10.8" fill="#262626" font-weight="400" >0</text>
</g>
</svg>
</body></html>
